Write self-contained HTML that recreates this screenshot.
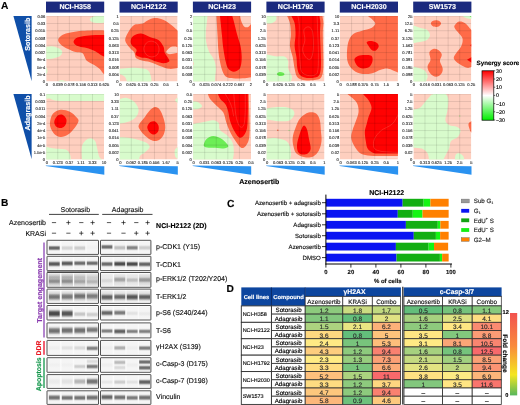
<!DOCTYPE html>
<html lang="en"><head><meta charset="utf-8"><title>Figure</title>
<style>html,body{margin:0;padding:0;background:#fff}svg{display:block}text{font-family:"Liberation Sans", sans-serif}</style>
</head><body>
<svg width="520" height="405" viewBox="0 0 520 405" text-rendering="geometricPrecision">
<defs>
<filter id="bl" x="-20%" y="-60%" width="140%" height="220%"><feGaussianBlur stdDeviation="0.6 0.75"/></filter>
<filter id="bl2" x="-20%" y="-60%" width="140%" height="220%"><feGaussianBlur stdDeviation="0.35 1.2"/></filter>
<linearGradient id="syn" x1="0" y1="0" x2="0" y2="1"><stop offset="0" stop-color="#ff0000"/><stop offset="0.5" stop-color="#ffffff"/><stop offset="1" stop-color="#00ee00"/></linearGradient>
<linearGradient id="fold" x1="0" y1="0" x2="0" y2="1"><stop offset="0" stop-color="#f2524f"/><stop offset="0.4" stop-color="#f98a3c"/><stop offset="0.75" stop-color="#f4e61e"/><stop offset="1" stop-color="#56b75c"/></linearGradient>
<linearGradient id="boxbg" x1="0" y1="0" x2="0" y2="1"><stop offset="0" stop-color="#fcfcfc"/><stop offset="0.5" stop-color="#f9f9f9"/><stop offset="1" stop-color="#fcfcfc"/></linearGradient>
<linearGradient id="bg1" x1="0" y1="0" x2="0" y2="1"><stop offset="0" stop-color="#242424" stop-opacity="0"/><stop offset="0.14" stop-color="#242424" stop-opacity="0.12"/><stop offset="0.3" stop-color="#242424" stop-opacity="0.7"/><stop offset="0.42" stop-color="#242424" stop-opacity="1"/><stop offset="0.58" stop-color="#242424" stop-opacity="1"/><stop offset="0.7" stop-color="#242424" stop-opacity="0.7"/><stop offset="0.86" stop-color="#242424" stop-opacity="0.12"/><stop offset="1" stop-color="#242424" stop-opacity="0"/></linearGradient>
<linearGradient id="bg2" x1="0" y1="0" x2="0" y2="1"><stop offset="0" stop-color="#242424" stop-opacity="0.35"/><stop offset="0.15" stop-color="#242424" stop-opacity="0.8"/><stop offset="0.5" stop-color="#242424" stop-opacity="1"/><stop offset="0.85" stop-color="#242424" stop-opacity="0.8"/><stop offset="1" stop-color="#242424" stop-opacity="0.35"/></linearGradient>
</defs>
<rect width="520" height="405" fill="#fff"/>
<g id="panelA">
<text x="1.1" y="8.9" font-size="10.2" font-weight="bold" fill="#000" stroke="#000" stroke-width="0.14">A</text>
<rect x="46" y="1.6" width="58.2" height="11" fill="#1b2a7e"/>
<text x="75.15" y="8.9" font-size="7.1" font-weight="bold" fill="#fff" text-anchor="middle" stroke="#fff" stroke-width="0.14">NCI-H358</text>
<rect x="119.5" y="1.6" width="58.2" height="11" fill="#1b2a7e"/>
<text x="148.65" y="8.9" font-size="7.1" font-weight="bold" fill="#fff" text-anchor="middle" stroke="#fff" stroke-width="0.14">NCI-H2122</text>
<rect x="192.9" y="1.6" width="58.2" height="11" fill="#1b2a7e"/>
<text x="222.05" y="8.9" font-size="7.1" font-weight="bold" fill="#fff" text-anchor="middle" stroke="#fff" stroke-width="0.14">NCI-H23</text>
<rect x="266.4" y="1.6" width="58.2" height="11" fill="#1b2a7e"/>
<text x="295.55" y="8.9" font-size="7.1" font-weight="bold" fill="#fff" text-anchor="middle" stroke="#fff" stroke-width="0.14">NCI-H1792</text>
<rect x="339.8" y="1.6" width="58.2" height="11" fill="#1b2a7e"/>
<text x="368.95" y="8.9" font-size="7.1" font-weight="bold" fill="#fff" text-anchor="middle" stroke="#fff" stroke-width="0.14">NCI-H2030</text>
<rect x="413.2" y="1.6" width="58.2" height="11" fill="#1b2a7e"/>
<text x="442.35" y="8.9" font-size="7.1" font-weight="bold" fill="#fff" text-anchor="middle" stroke="#fff" stroke-width="0.14">SW1573</text>
<path d="M13.4 16 L31.6 16 L31.6 80.9 Z" fill="#0f4fa8"/>
<text transform="translate(29.9 34.2) rotate(-90)" font-size="7.2" font-weight="bold" fill="#fff" text-anchor="middle" stroke="#fff" stroke-width="0.14">Sotorasib</text>
<path d="M13.4 94 L31.6 94 L31.6 159 Z" fill="#0f4fa8"/>
<text transform="translate(29.9 113) rotate(-90)" font-size="7.2" font-weight="bold" fill="#fff" text-anchor="middle" stroke="#fff" stroke-width="0.14">Adagrasib</text>
<clipPath id="cp00"><rect x="46.2" y="16" width="57.9" height="65.5"/></clipPath>
<g clip-path="url(#cp00)">
<rect x="46.2" y="16" width="57.9" height="65.5" fill="#fecfbf"/>
<path d="M89.72 19.79 C89.56 18.87 90.96 17.61 92.33 16.95 C93.7 16.28 95.98 16.03 97.94 15.81 C99.9 15.59 102.23 15.65 104.1 15.62 C105.97 15.59 109.14 15.62 109.14 15.62 L109.14 22.63 C109.14 22.63 105.66 22.56 104.1 22.63 C102.54 22.69 101.61 23.04 99.8 23 C98 22.97 94.95 22.97 93.27 22.44 C91.59 21.9 89.87 20.7 89.72 19.79Z" fill="#d8fbcc"/>
<path d="M41.9 46.67 C41.9 46.67 44.33 46.7 46.2 46.67 C48.07 46.64 50.87 46.13 53.11 46.48 C55.35 46.83 58.12 47.8 59.65 48.75 C61.17 49.7 62.26 50.9 62.26 52.16 C62.26 53.42 61.17 55.28 59.65 56.32 C58.12 57.36 55.35 57.96 53.11 58.4 C50.87 58.85 48.07 58.88 46.2 58.97 C44.33 59.07 41.9 58.97 41.9 58.97 L41.9 46.67Z" fill="#d8fbcc"/>
<path d="M43.77 66.73 C43.77 66.73 45.58 66.8 46.2 67.49 C46.82 68.19 47.51 69.76 47.51 70.9 C47.51 72.03 46.82 73.68 46.2 74.31 C45.58 74.94 43.77 74.68 43.77 74.68 L43.77 66.73Z" fill="#d8fbcc"/>
<path d="M57.22 83.77 C57.22 83.77 57.84 82.07 58.34 81.5 C58.84 80.93 59.46 80.55 60.21 80.36 C60.96 80.17 61.83 80.17 62.82 80.36 C63.82 80.55 65.47 80.93 66.18 81.5 C66.9 82.07 67.12 83.77 67.12 83.77 L57.22 83.77Z" fill="#d8fbcc"/>
<path d="M58.15 40.23 C58.06 38.69 59.31 37.08 60.96 35.88 C62.6 34.68 65 33.86 68.05 33.04 C71.1 32.22 75.52 31.4 79.26 30.96 C82.99 30.51 86.33 30.48 90.47 30.39 C94.61 30.29 100.68 30.39 104.1 30.39 C107.52 30.39 111.01 30.39 111.01 30.39 L111.01 77.15 C111.01 77.15 105.97 75.66 104.1 74.31 C102.23 72.95 101.45 70.55 99.8 69.01 C98.15 67.46 96.38 66.42 94.2 65.03 C92.02 63.64 88.35 62.1 86.73 60.68 C85.11 59.26 85.24 57.81 84.49 56.51 C83.74 55.22 83.74 53.67 82.25 52.91 C80.75 52.16 77.89 52.63 75.52 51.97 C73.16 51.31 70.39 50.08 68.05 48.94 C65.72 47.8 63.17 46.6 61.52 45.15 C59.87 43.7 58.25 41.78 58.15 40.23Z" fill="#ff6b48"/>
<path d="M73.66 41.18 C74.06 40.04 75.21 38.5 77.39 37.58 C79.57 36.67 83.62 36.1 86.73 35.69 C89.84 35.28 93.17 35.25 96.07 35.12 C98.96 34.99 101.61 34.96 104.1 34.93 C106.59 34.9 111.01 34.93 111.01 34.93 L111.01 58.22 C111.01 58.22 105.97 57.17 104.1 56.51 C102.23 55.85 101.45 55.19 99.8 54.24 C98.15 53.29 96.38 51.87 94.2 50.83 C92.02 49.79 89.22 48.72 86.73 47.99 C84.24 47.27 81.22 47.08 79.26 46.48 C77.3 45.88 75.9 45.28 74.96 44.4 C74.03 43.51 73.25 42.31 73.66 41.18Z" fill="#ff0202"/>
<path d="M57.78 16V81.5M69.36 16V81.5M80.94 16V81.5M92.52 16V81.5M46.2 16.2H104.1M46.2 23.47H104.1M46.2 30.74H104.1M46.2 38.01H104.1M46.2 45.28H104.1M46.2 52.55H104.1M46.2 59.82H104.1M46.2 67.09H104.1M46.2 74.36H104.1" stroke="#000" stroke-opacity="0.24" stroke-width="0.42" fill="none"/>
</g>
<text x="45.4" y="17.7" font-size="4.1" fill="#111" text-anchor="end" stroke="#111" stroke-width="0.08">0.06</text>
<text x="45.4" y="24.97" font-size="4.1" fill="#111" text-anchor="end" stroke="#111" stroke-width="0.08">0.03</text>
<text x="45.4" y="32.24" font-size="4.1" fill="#111" text-anchor="end" stroke="#111" stroke-width="0.08">0.015</text>
<text x="45.4" y="39.51" font-size="4.1" fill="#111" text-anchor="end" stroke="#111" stroke-width="0.08">0.008</text>
<text x="45.4" y="46.78" font-size="4.1" fill="#111" text-anchor="end" stroke="#111" stroke-width="0.08">0.004</text>
<text x="45.4" y="54.05" font-size="4.1" fill="#111" text-anchor="end" stroke="#111" stroke-width="0.08">0.002</text>
<text x="45.4" y="61.32" font-size="4.1" fill="#111" text-anchor="end" stroke="#111" stroke-width="0.08">9e-4</text>
<text x="45.4" y="68.59" font-size="4.1" fill="#111" text-anchor="end" stroke="#111" stroke-width="0.08">5e-4</text>
<text x="45.4" y="75.86" font-size="4.1" fill="#111" text-anchor="end" stroke="#111" stroke-width="0.08">2e-4</text>
<text x="45" y="83.1" font-size="4.1" fill="#111" text-anchor="end" stroke="#111" stroke-width="0.08">0</text>
<text x="46.8" y="86.1" font-size="4.1" fill="#111" text-anchor="middle" stroke="#111" stroke-width="0.08">0</text>
<text x="57.78" y="86.1" font-size="4.1" fill="#111" text-anchor="middle" stroke="#111" stroke-width="0.08">0.039</text>
<text x="69.36" y="86.1" font-size="4.1" fill="#111" text-anchor="middle" stroke="#111" stroke-width="0.08">0.078</text>
<text x="80.94" y="86.1" font-size="4.1" fill="#111" text-anchor="middle" stroke="#111" stroke-width="0.08">0.156</text>
<text x="92.52" y="86.1" font-size="4.1" fill="#111" text-anchor="middle" stroke="#111" stroke-width="0.08">0.313</text>
<text x="104.1" y="86.1" font-size="4.1" fill="#111" text-anchor="middle" stroke="#111" stroke-width="0.08">0.625</text>
<clipPath id="cp01"><rect x="119.7" y="16" width="57.9" height="65.5"/></clipPath>
<g clip-path="url(#cp01)">
<rect x="119.7" y="16" width="57.9" height="65.5" fill="#fecfbf"/>
<path d="M125.13 40.23 C124.95 37.52 127.6 33.7 128.69 31.52 C129.79 29.35 130.51 28.37 131.69 27.17 C132.88 25.97 133.94 24.96 135.81 24.33 C137.69 23.7 140.91 24.05 142.93 23.38 C144.96 22.72 146.03 21.24 147.99 20.35 C149.96 19.47 152.21 18.18 154.74 18.08 C157.27 17.99 160.45 18.68 163.17 19.79 C165.89 20.89 168.86 23.13 171.04 24.71 C173.23 26.29 175.2 28.27 176.29 29.25 C177.38 30.23 176.6 29.54 177.6 30.58 C178.6 31.62 182.28 35.5 182.28 35.5 L182.28 67.87 C182.28 67.87 179.79 67.9 177.6 68.06 C175.41 68.22 172.13 69.16 169.17 68.82 C166.2 68.47 162.92 67.08 159.8 65.98 C156.68 64.87 153.55 63.14 150.43 62.19 C147.31 61.24 143.53 61.09 141.06 60.3 C138.59 59.51 136.75 58.75 135.63 57.46 C134.5 56.16 135.28 54.15 134.32 52.54 C133.35 50.93 131.35 49.85 129.82 47.8 C128.29 45.75 125.32 42.94 125.13 40.23Z" fill="#ff6b48"/>
<path d="M166.17 51.78 C166.42 50.64 168.86 48.12 170.29 47.24 C171.73 46.35 173.57 46.51 174.79 46.48 C176.01 46.45 176.35 46.83 177.6 47.05 C178.85 47.27 182.28 47.8 182.28 47.8 L182.28 52.73 C182.28 52.73 179.16 52.57 177.6 52.73 C176.04 52.88 174.38 53.45 172.92 53.67 C171.45 53.89 169.92 54.37 168.79 54.05 C167.67 53.74 165.92 52.91 166.17 51.78Z" fill="#fecfbf"/>
<path d="M130.76 40.23 C131.07 38.69 131.85 36.82 133.57 35.69 C135.28 34.55 138.25 33.16 141.06 33.42 C143.87 33.67 147.46 36.07 150.43 37.2 C153.4 38.34 156.68 38.62 158.86 40.23 C161.05 41.84 162.58 44.81 163.55 46.86 C164.51 48.91 163.89 50.64 164.67 52.54 C165.45 54.43 167.48 56.73 168.23 58.22 C168.98 59.7 169.95 60.61 169.17 61.43 C168.39 62.25 165.73 63.11 163.55 63.14 C161.36 63.17 158.55 62.41 156.05 61.62 C153.55 60.83 151.05 59.1 148.56 58.4 C146.06 57.71 143.22 58.09 141.06 57.46 C138.91 56.83 136.38 55.91 135.63 54.62 C134.88 53.32 137.22 51.31 136.56 49.7 C135.91 48.09 132.66 46.54 131.69 44.96 C130.72 43.39 130.44 41.78 130.76 40.23Z" fill="#ff0202"/>
<path d="M143.87 48.75 C143.9 46.86 145.06 44.33 146.31 43.07 C147.56 41.81 149.59 41.08 151.37 41.18 C153.15 41.27 155.71 42.28 156.99 43.64 C158.27 45 159.05 47.42 159.05 49.32 C159.05 51.21 158.27 53.74 156.99 55 C155.71 56.26 153.18 56.98 151.37 56.89 C149.56 56.8 147.37 55.79 146.12 54.43 C144.87 53.07 143.84 50.64 143.87 48.75Z" fill="none" stroke="#ff6e5e" stroke-width="0.35"/>
<path d="M114.83 68.63 C114.83 68.63 116.89 68.78 119.7 68.63 C122.51 68.47 127.82 67.71 131.69 67.68 C135.56 67.65 140.19 67.96 142.93 68.44 C145.68 68.91 146.9 69.38 148.18 70.52 C149.46 71.66 150.06 73.42 150.62 75.25 C151.18 77.08 151.4 79.76 151.55 81.5 C151.71 83.24 151.55 85.66 151.55 85.66 L127.57 85.66 C127.57 85.66 127.51 83.01 127.01 81.5 C126.51 79.99 125.79 77.78 124.57 76.58 C123.35 75.38 121.32 74.68 119.7 74.31 C118.08 73.93 114.83 74.31 114.83 74.31 L114.83 68.63Z" fill="#d8fbcc"/>
<path d="M131.28 16V81.5M142.86 16V81.5M154.44 16V81.5M166.02 16V81.5M119.7 16.2H177.6M119.7 23.47H177.6M119.7 30.74H177.6M119.7 38.01H177.6M119.7 45.28H177.6M119.7 52.55H177.6M119.7 59.82H177.6M119.7 67.09H177.6M119.7 74.36H177.6" stroke="#000" stroke-opacity="0.24" stroke-width="0.42" fill="none"/>
</g>
<text x="118.9" y="17.7" font-size="4.1" fill="#111" text-anchor="end" stroke="#111" stroke-width="0.08">1</text>
<text x="118.9" y="24.97" font-size="4.1" fill="#111" text-anchor="end" stroke="#111" stroke-width="0.08">0.5</text>
<text x="118.9" y="32.24" font-size="4.1" fill="#111" text-anchor="end" stroke="#111" stroke-width="0.08">0.25</text>
<text x="118.9" y="39.51" font-size="4.1" fill="#111" text-anchor="end" stroke="#111" stroke-width="0.08">0.125</text>
<text x="118.9" y="46.78" font-size="4.1" fill="#111" text-anchor="end" stroke="#111" stroke-width="0.08">0.063</text>
<text x="118.9" y="54.05" font-size="4.1" fill="#111" text-anchor="end" stroke="#111" stroke-width="0.08">0.313</text>
<text x="118.9" y="61.32" font-size="4.1" fill="#111" text-anchor="end" stroke="#111" stroke-width="0.08">0.016</text>
<text x="118.9" y="68.59" font-size="4.1" fill="#111" text-anchor="end" stroke="#111" stroke-width="0.08">0.008</text>
<text x="118.9" y="75.86" font-size="4.1" fill="#111" text-anchor="end" stroke="#111" stroke-width="0.08">0.004</text>
<text x="118.5" y="83.1" font-size="4.1" fill="#111" text-anchor="end" stroke="#111" stroke-width="0.08">0</text>
<text x="120.3" y="86.1" font-size="4.1" fill="#111" text-anchor="middle" stroke="#111" stroke-width="0.08">0</text>
<text x="131.28" y="86.1" font-size="4.1" fill="#111" text-anchor="middle" stroke="#111" stroke-width="0.08">0.625</text>
<text x="142.86" y="86.1" font-size="4.1" fill="#111" text-anchor="middle" stroke="#111" stroke-width="0.08">0.125</text>
<text x="154.44" y="86.1" font-size="4.1" fill="#111" text-anchor="middle" stroke="#111" stroke-width="0.08">0.25</text>
<text x="166.02" y="86.1" font-size="4.1" fill="#111" text-anchor="middle" stroke="#111" stroke-width="0.08">0.5</text>
<text x="177.6" y="86.1" font-size="4.1" fill="#111" text-anchor="middle" stroke="#111" stroke-width="0.08">1</text>
<clipPath id="cp02"><rect x="193.1" y="16" width="57.9" height="65.5"/></clipPath>
<g clip-path="url(#cp02)">
<rect x="193.1" y="16" width="57.9" height="65.5" fill="#fecfbf"/>
<path d="M188.8 11.84 L207.86 11.84 C207.86 11.84 207.67 14.11 207.48 16 C207.29 17.89 207.01 20.42 206.73 23.19 C206.45 25.97 205.89 29.5 205.8 32.66 C205.71 35.81 205.64 38.97 206.17 42.12 C206.7 45.28 207.64 48.59 208.98 51.59 C210.31 54.59 213.05 57.27 214.21 60.11 C215.36 62.95 215.73 65.79 215.89 68.63 C216.04 71.47 215.29 75 215.14 77.15 C214.98 79.29 214.98 80.08 214.95 81.5 C214.92 82.92 214.95 85.66 214.95 85.66 L188.8 85.66 L188.8 11.84Z" fill="#d8fbcc"/>
<path d="M191.61 61.43 C191.61 61.43 192.7 61.47 193.1 61.81 C193.5 62.16 194.03 62.88 194.03 63.52 C194.03 64.15 193.5 65.19 193.1 65.6 C192.7 66.01 191.61 65.98 191.61 65.98 L191.61 61.43Z" fill="#fecfbf"/>
<path d="M216.26 11.84 C216.26 11.84 216.35 14.11 216.45 16 C216.54 17.89 216.63 19.79 216.82 23.19 C217.01 26.6 217.32 32.03 217.57 36.45 C217.82 40.86 217.97 45.75 218.31 49.7 C218.66 53.64 218.94 56.57 219.62 60.11 C220.31 63.64 221.27 68.09 222.42 70.9 C223.58 73.71 224.35 75.69 226.53 76.96 C228.71 78.22 232.14 78.28 235.5 78.47 C238.86 78.66 244.12 78.28 246.7 78.09 C249.29 77.9 249.29 77.52 251 77.34 C252.71 77.15 256.98 76.96 256.98 76.96 L256.98 11.84 L216.26 11.84Z" fill="#ff6b48"/>
<path d="M239.98 11.84 C239.98 11.84 239.95 14.42 240.17 16 C240.38 17.58 240.63 19.57 241.29 21.3 C241.94 23.04 243 25.43 244.09 26.41 C245.18 27.39 246.67 27.58 247.82 27.17 C248.98 26.76 249.94 25.09 251 23.95 C252.06 22.82 254.18 20.35 254.18 20.35 L254.18 11.84 L239.98 11.84Z" fill="#fecfbf"/>
<path d="M219.81 11.84 C219.81 11.84 219.84 14.11 220 16 C220.15 17.89 220.43 20.1 220.74 23.19 C221.05 26.29 221.43 30.29 221.86 34.55 C222.3 38.81 222.7 44.18 223.36 48.75 C224.01 53.32 224.94 58.69 225.79 62 C226.63 65.31 227.09 67.02 228.4 68.63 C229.71 70.24 231.89 71.5 233.63 71.66 C235.37 71.81 237.61 70.77 238.86 69.57 C240.1 68.37 240.63 66.77 241.1 64.46 C241.57 62.16 241.79 58.94 241.66 55.75 C241.54 52.57 241.1 48.84 240.35 45.34 C239.61 41.84 238.21 38.53 237.18 34.74 C236.15 30.96 235 25.75 234.19 22.63 C233.38 19.5 232.7 17.8 232.32 16 C231.95 14.2 231.95 11.84 231.95 11.84 L219.81 11.84Z" fill="#ff0202"/>
<path d="M204.68 16V81.5M216.26 16V81.5M227.84 16V81.5M239.42 16V81.5M193.1 16.2H251M193.1 23.47H251M193.1 30.74H251M193.1 38.01H251M193.1 45.28H251M193.1 52.55H251M193.1 59.82H251M193.1 67.09H251M193.1 74.36H251" stroke="#000" stroke-opacity="0.24" stroke-width="0.42" fill="none"/>
</g>
<text x="192.3" y="17.7" font-size="4.1" fill="#111" text-anchor="end" stroke="#111" stroke-width="0.08">2</text>
<text x="192.3" y="24.97" font-size="4.1" fill="#111" text-anchor="end" stroke="#111" stroke-width="0.08">1</text>
<text x="192.3" y="32.24" font-size="4.1" fill="#111" text-anchor="end" stroke="#111" stroke-width="0.08">0.5</text>
<text x="192.3" y="39.51" font-size="4.1" fill="#111" text-anchor="end" stroke="#111" stroke-width="0.08">0.25</text>
<text x="192.3" y="46.78" font-size="4.1" fill="#111" text-anchor="end" stroke="#111" stroke-width="0.08">0.125</text>
<text x="192.3" y="54.05" font-size="4.1" fill="#111" text-anchor="end" stroke="#111" stroke-width="0.08">0.063</text>
<text x="192.3" y="61.32" font-size="4.1" fill="#111" text-anchor="end" stroke="#111" stroke-width="0.08">0.031</text>
<text x="192.3" y="68.59" font-size="4.1" fill="#111" text-anchor="end" stroke="#111" stroke-width="0.08">0.016</text>
<text x="192.3" y="75.86" font-size="4.1" fill="#111" text-anchor="end" stroke="#111" stroke-width="0.08">0.008</text>
<text x="191.9" y="83.1" font-size="4.1" fill="#111" text-anchor="end" stroke="#111" stroke-width="0.08">0</text>
<text x="193.7" y="86.1" font-size="4.1" fill="#111" text-anchor="middle" stroke="#111" stroke-width="0.08">0</text>
<text x="204.68" y="86.1" font-size="4.1" fill="#111" text-anchor="middle" stroke="#111" stroke-width="0.08">0.025</text>
<text x="216.26" y="86.1" font-size="4.1" fill="#111" text-anchor="middle" stroke="#111" stroke-width="0.08">0.074</text>
<text x="227.84" y="86.1" font-size="4.1" fill="#111" text-anchor="middle" stroke="#111" stroke-width="0.08">0.222</text>
<text x="239.42" y="86.1" font-size="4.1" fill="#111" text-anchor="middle" stroke="#111" stroke-width="0.08">0.667</text>
<text x="251" y="86.1" font-size="4.1" fill="#111" text-anchor="middle" stroke="#111" stroke-width="0.08">2</text>
<clipPath id="cp03"><rect x="266.6" y="16" width="57.9" height="65.5"/></clipPath>
<g clip-path="url(#cp03)">
<rect x="266.6" y="16" width="57.9" height="65.5" fill="#fecfbf"/>
<path d="M261.93 11.84 L276.13 11.84 C276.13 11.84 276.34 14.61 276.31 16 C276.28 17.39 276.72 18.97 275.94 20.16 C275.16 21.36 273.2 22.63 271.64 23.19 C270.09 23.76 268.22 23.51 266.6 23.57 C264.98 23.64 261.93 23.57 261.93 23.57 L261.93 11.84Z" fill="#d8fbcc"/>
<path d="M261.93 54.24 C261.93 54.24 264.42 54.27 266.6 54.62 C268.78 54.97 272.05 56.01 275 56.32 C277.96 56.64 282.16 55.72 284.34 56.51 C286.52 57.3 287.43 59.04 288.08 61.05 C288.73 63.07 287.64 66.1 288.27 68.63 C288.89 71.15 291.35 74.05 291.81 76.2 C292.28 78.34 291.22 79.92 291.07 81.5 C290.91 83.08 290.88 85.66 290.88 85.66 L261.93 85.66 L261.93 54.24Z" fill="#d8fbcc"/>
<path d="M276.87 73.93 C276.81 73.36 277.68 72.73 278.37 72.41 C279.05 72.1 280.05 71.91 280.98 72.03 C281.92 72.16 283.41 72.73 283.97 73.17 C284.53 73.61 284.65 74.24 284.34 74.68 C284.03 75.13 283.04 75.63 282.1 75.82 C281.17 76.01 279.61 76.14 278.74 75.82 C277.87 75.51 276.93 74.5 276.87 73.93Z" fill="#6cee56"/>
<path d="M285.28 11.84 C285.28 11.84 286.37 14.11 287.15 16 C287.92 17.89 289.32 20.1 289.95 23.19 C290.57 26.29 290.88 30.77 290.88 34.55 C290.88 38.34 289.64 42.12 289.95 45.91 C290.26 49.7 291.97 53.48 292.75 57.27 C293.53 61.05 293.84 65.31 294.62 68.63 C295.39 71.94 295.71 75.22 297.42 77.15 C299.13 79.07 301.78 79.73 304.89 80.17 C308 80.62 313.29 80.43 316.1 79.8 C318.9 79.17 320.48 78.88 321.7 76.39 C322.91 73.9 323.19 71.81 323.38 64.84 C323.57 57.87 322.82 41.49 322.82 34.55 C322.82 27.61 323.44 26.29 323.38 23.19 C323.32 20.1 322.66 17.89 322.45 16 C322.23 14.11 322.07 11.84 322.07 11.84 L285.28 11.84Z" fill="#ff6b48"/>
<path d="M289.95 11.84 C289.95 11.84 290.66 14.11 291.44 16 C292.22 17.89 293.93 20.1 294.62 23.19 C295.3 26.29 295.55 30.77 295.55 34.55 C295.55 38.34 294.46 42.12 294.62 45.91 C294.77 49.7 296.02 53.48 296.48 57.27 C296.95 61.05 296.8 65.63 297.42 68.63 C298.04 71.62 298.66 73.71 300.22 75.25 C301.78 76.8 304.11 77.56 306.76 77.9 C309.4 78.25 313.85 78.25 316.1 77.34 C318.34 76.42 319.39 75.44 320.2 72.41 C321.01 69.38 320.98 65.47 320.95 59.16 C320.92 52.85 320.11 40.55 320.02 34.55 C319.92 28.56 320.48 26.29 320.39 23.19 C320.3 20.1 319.64 17.89 319.46 16 C319.27 14.11 319.27 11.84 319.27 11.84 L289.95 11.84Z" fill="#ff0202"/>
<path d="M297.42 13.73 C297.73 15.62 299.04 20.04 299.29 25.09 C299.53 30.13 298.79 38.02 298.91 44.02 C299.04 50.01 299.6 56.48 300.03 61.05 C300.47 65.63 300.25 69.07 301.53 71.47 C302.8 73.86 305.42 74.87 307.69 75.44 C309.96 76.01 313.45 75.85 315.16 74.87 C316.87 73.9 317.43 73.77 317.96 69.57 C318.49 65.38 318.4 56.48 318.34 49.7 C318.27 42.91 317.81 34.87 317.59 28.87 C317.37 22.88 317.12 16.25 317.03 13.73" fill="none" stroke="#ff6e5e" stroke-width="0.35"/>
<path d="M303.95 29.82 C304.64 27.61 307.53 26.51 309 26.98 C310.46 27.45 312.02 28.87 312.73 32.66 C313.45 36.45 313.67 45.28 313.29 49.7 C312.92 54.11 311.74 57.9 310.49 59.16 C309.25 60.42 307.13 58.85 305.82 57.27 C304.52 55.69 302.8 52.54 302.65 49.7 C302.49 46.86 304.67 43.54 304.89 40.23 C305.11 36.92 303.27 32.03 303.95 29.82Z" fill="none" stroke="#ff6e5e" stroke-width="0.35"/>
<path d="M278.18 16V81.5M289.76 16V81.5M301.34 16V81.5M312.92 16V81.5M266.6 16.2H324.5M266.6 23.47H324.5M266.6 30.74H324.5M266.6 38.01H324.5M266.6 45.28H324.5M266.6 52.55H324.5M266.6 59.82H324.5M266.6 67.09H324.5M266.6 74.36H324.5" stroke="#000" stroke-opacity="0.24" stroke-width="0.42" fill="none"/>
</g>
<text x="265.8" y="17.7" font-size="4.1" fill="#111" text-anchor="end" stroke="#111" stroke-width="0.08">10</text>
<text x="265.8" y="24.97" font-size="4.1" fill="#111" text-anchor="end" stroke="#111" stroke-width="0.08">5</text>
<text x="265.8" y="32.24" font-size="4.1" fill="#111" text-anchor="end" stroke="#111" stroke-width="0.08">2.5</text>
<text x="265.8" y="39.51" font-size="4.1" fill="#111" text-anchor="end" stroke="#111" stroke-width="0.08">1.25</text>
<text x="265.8" y="46.78" font-size="4.1" fill="#111" text-anchor="end" stroke="#111" stroke-width="0.08">0.625</text>
<text x="265.8" y="54.05" font-size="4.1" fill="#111" text-anchor="end" stroke="#111" stroke-width="0.08">0.313</text>
<text x="265.8" y="61.32" font-size="4.1" fill="#111" text-anchor="end" stroke="#111" stroke-width="0.08">0.156</text>
<text x="265.8" y="68.59" font-size="4.1" fill="#111" text-anchor="end" stroke="#111" stroke-width="0.08">0.078</text>
<text x="265.8" y="75.86" font-size="4.1" fill="#111" text-anchor="end" stroke="#111" stroke-width="0.08">0.039</text>
<text x="265.4" y="83.1" font-size="4.1" fill="#111" text-anchor="end" stroke="#111" stroke-width="0.08">0</text>
<text x="267.2" y="86.1" font-size="4.1" fill="#111" text-anchor="middle" stroke="#111" stroke-width="0.08">0</text>
<text x="278.18" y="86.1" font-size="4.1" fill="#111" text-anchor="middle" stroke="#111" stroke-width="0.08">0.625</text>
<text x="289.76" y="86.1" font-size="4.1" fill="#111" text-anchor="middle" stroke="#111" stroke-width="0.08">0.125</text>
<text x="301.34" y="86.1" font-size="4.1" fill="#111" text-anchor="middle" stroke="#111" stroke-width="0.08">0.25</text>
<text x="312.92" y="86.1" font-size="4.1" fill="#111" text-anchor="middle" stroke="#111" stroke-width="0.08">0.5</text>
<text x="324.5" y="86.1" font-size="4.1" fill="#111" text-anchor="middle" stroke="#111" stroke-width="0.08">1</text>
<clipPath id="cp04"><rect x="340" y="16" width="57.9" height="65.5"/></clipPath>
<g clip-path="url(#cp04)">
<rect x="340" y="16" width="57.9" height="65.5" fill="#fecfbf"/>
<path d="M364.84 11.84 C364.84 11.84 366.77 14.74 368.02 16 C369.26 17.26 371.1 18.15 372.31 19.41 C373.53 20.67 375.46 22.12 375.3 23.57 C375.14 25.02 373.59 26.92 371.38 28.12 C369.17 29.31 365 29.82 362.04 30.77 C359.08 31.71 355.81 32.22 353.63 33.79 C351.46 35.37 350.05 37.58 348.97 40.23 C347.88 42.88 347.35 46.23 347.1 49.7 C346.85 53.17 346.69 57.9 347.47 61.05 C348.25 64.21 349.65 66.54 351.77 68.63 C353.88 70.71 356.9 72.73 360.17 73.55 C363.44 74.37 367.95 74.18 371.38 73.55 C374.8 72.92 377.92 70.58 380.72 69.76 C383.52 68.94 385.32 68.19 388.19 68.63 C391.05 69.07 395.1 71.31 397.9 72.41 C400.7 73.52 405 75.25 405 75.25 L405 11.84 L364.84 11.84Z" fill="#ff6b48"/>
<path d="M366.71 42.12 C367.14 41.24 369.67 40.83 371.38 40.99 C373.09 41.15 375.77 42.09 376.98 43.07 C378.2 44.05 378.91 45.59 378.66 46.86 C378.41 48.12 376.64 50.14 375.49 50.64 C374.34 51.15 372.87 50.61 371.75 49.89 C370.63 49.16 369.6 47.58 368.76 46.29 C367.92 45 366.27 43.01 366.71 42.12Z" fill="#ff0202"/>
<path d="M354.38 59.54 C354.48 57.87 356.19 56.7 357.93 55.94 C359.67 55.19 362.6 55.03 364.84 55 C367.08 54.97 370.1 54.74 371.38 55.75 C372.65 56.76 372.81 59.22 372.5 61.05 C372.19 62.88 371.1 65.5 369.51 66.73 C367.92 67.96 365 68.56 362.97 68.44 C360.95 68.31 358.8 67.46 357.37 65.98 C355.94 64.49 354.29 61.21 354.38 59.54Z" fill="#ff0202"/>
<path d="M351.58 16V81.5M363.16 16V81.5M374.74 16V81.5M386.32 16V81.5M340 16.2H397.9M340 23.47H397.9M340 30.74H397.9M340 38.01H397.9M340 45.28H397.9M340 52.55H397.9M340 59.82H397.9M340 67.09H397.9M340 74.36H397.9" stroke="#000" stroke-opacity="0.24" stroke-width="0.42" fill="none"/>
</g>
<text x="339.2" y="17.7" font-size="4.1" fill="#111" text-anchor="end" stroke="#111" stroke-width="0.08">10</text>
<text x="339.2" y="24.97" font-size="4.1" fill="#111" text-anchor="end" stroke="#111" stroke-width="0.08">3.3</text>
<text x="339.2" y="32.24" font-size="4.1" fill="#111" text-anchor="end" stroke="#111" stroke-width="0.08">1.11</text>
<text x="339.2" y="39.51" font-size="4.1" fill="#111" text-anchor="end" stroke="#111" stroke-width="0.08">0.37</text>
<text x="339.2" y="46.78" font-size="4.1" fill="#111" text-anchor="end" stroke="#111" stroke-width="0.08">0.123</text>
<text x="339.2" y="54.05" font-size="4.1" fill="#111" text-anchor="end" stroke="#111" stroke-width="0.08">0.041</text>
<text x="339.2" y="61.32" font-size="4.1" fill="#111" text-anchor="end" stroke="#111" stroke-width="0.08">0.014</text>
<text x="339.2" y="68.59" font-size="4.1" fill="#111" text-anchor="end" stroke="#111" stroke-width="0.08">0.005</text>
<text x="339.2" y="75.86" font-size="4.1" fill="#111" text-anchor="end" stroke="#111" stroke-width="0.08">0.002</text>
<text x="338.8" y="83.1" font-size="4.1" fill="#111" text-anchor="end" stroke="#111" stroke-width="0.08">0</text>
<text x="340.6" y="86.1" font-size="4.1" fill="#111" text-anchor="middle" stroke="#111" stroke-width="0.08">0</text>
<text x="351.58" y="86.1" font-size="4.1" fill="#111" text-anchor="middle" stroke="#111" stroke-width="0.08">0.188</text>
<text x="363.16" y="86.1" font-size="4.1" fill="#111" text-anchor="middle" stroke="#111" stroke-width="0.08">0.375</text>
<text x="374.74" y="86.1" font-size="4.1" fill="#111" text-anchor="middle" stroke="#111" stroke-width="0.08">0.75</text>
<text x="386.32" y="86.1" font-size="4.1" fill="#111" text-anchor="middle" stroke="#111" stroke-width="0.08">1.5</text>
<text x="397.9" y="86.1" font-size="4.1" fill="#111" text-anchor="middle" stroke="#111" stroke-width="0.08">3</text>
<clipPath id="cp05"><rect x="413.4" y="16" width="57.9" height="65.5"/></clipPath>
<g clip-path="url(#cp05)">
<rect x="413.4" y="16" width="57.9" height="65.5" fill="#fecfbf"/>
<path d="M408.7 24.33 C408.7 24.33 411.36 24.83 413.4 25.47 C415.44 26.1 418.57 27.33 420.92 28.12 C423.27 28.9 426 28.97 427.5 30.2 C429 31.43 430.1 33.83 429.94 35.5 C429.79 37.17 428.53 39.1 426.56 40.23 C424.59 41.37 420.29 41.84 418.1 42.31 C415.91 42.79 414.97 42.91 413.4 43.07 C411.83 43.23 408.7 43.26 408.7 43.26 L408.7 24.33Z" fill="#d8fbcc"/>
<path d="M408.7 66.73 C408.7 66.73 411.83 66.77 413.4 66.92 C414.97 67.08 416.22 67.08 418.1 67.68 C419.98 68.28 423.08 69.1 424.68 70.52 C426.28 71.94 427.47 74.37 427.69 76.2 C427.91 78.03 426.34 79.92 426 81.5 C425.65 83.08 425.62 85.66 425.62 85.66 L408.7 85.66 L408.7 66.73Z" fill="#d8fbcc"/>
<path d="M461.34 13.73 L474.5 13.73 L474.5 19.41 C474.5 19.41 472.62 19.22 471.3 19.03 C469.98 18.84 468.07 18.78 466.6 18.27 C465.13 17.77 463.34 16.76 462.46 16 C461.59 15.24 461.34 13.73 461.34 13.73Z" fill="#d8fbcc"/>
<path d="M430.88 23.57 C430.88 22.75 431.73 21.65 432.57 21.11 C433.42 20.57 434.8 20.32 435.96 20.35 C437.12 20.39 438.68 20.76 439.53 21.3 C440.38 21.84 441.1 22.75 441.03 23.57 C440.97 24.39 440 25.65 439.15 26.22 C438.31 26.79 437.06 27.01 435.96 26.98 C434.86 26.95 433.42 26.6 432.57 26.03 C431.73 25.47 430.88 24.39 430.88 23.57Z" fill="#ff6b48"/>
<path d="M429.38 52.54 C429.82 50.67 431.73 49.41 433.14 48.94 C434.55 48.47 436.4 48.78 437.84 49.7 C439.28 50.61 441.44 52.54 441.79 54.43 C442.13 56.32 439.75 58.69 439.91 61.05 C440.06 63.42 442.57 66.42 442.73 68.63 C442.88 70.84 441.97 72.95 440.85 74.31 C439.72 75.66 437.71 76.89 435.96 76.77 C434.2 76.64 431.73 75.22 430.32 73.55 C428.91 71.88 427.47 68.97 427.5 66.73 C427.53 64.49 430.19 62.47 430.51 60.11 C430.82 57.74 428.94 54.4 429.38 52.54Z" fill="#ff6b48"/>
<path d="M454.57 25.47 C455.26 24.3 457.33 21.87 459.08 21.49 C460.84 21.11 463.06 21.81 465.1 23.19 C467.13 24.58 469.26 27.77 471.3 29.82 C473.34 31.87 477.32 35.5 477.32 35.5 L477.32 66.73 C477.32 66.73 473.02 66.92 471.3 67.11 C469.58 67.3 468.95 68.37 466.98 67.87 C465 67.37 461.65 65.66 459.46 64.08 C457.26 62.51 454.29 60.33 453.82 58.4 C453.35 56.48 455.38 54.62 456.64 52.54 C457.89 50.45 460.37 48.28 461.34 45.91 C462.31 43.54 463.09 40.7 462.46 38.34 C461.84 35.97 458.83 33.35 457.58 31.71 C456.32 30.07 455.45 29.54 454.95 28.49 C454.44 27.45 453.88 26.63 454.57 25.47Z" fill="#ff6b48"/>
<path d="M466.98 59.73 L471.68 57.08 L471.68 62.76 Z" fill="#ff0202"/>
<path d="M470.17 45.15 L471.68 44.02 L471.68 46.67 Z" fill="#ff0202"/>
<path d="M469.61 16 L471.3 16 L471.3 17.51 Z" fill="#6cee56"/>
<path d="M424.98 16V81.5M436.56 16V81.5M448.14 16V81.5M459.72 16V81.5M413.4 16.2H471.3M413.4 23.47H471.3M413.4 30.74H471.3M413.4 38.01H471.3M413.4 45.28H471.3M413.4 52.55H471.3M413.4 59.82H471.3M413.4 67.09H471.3M413.4 74.36H471.3" stroke="#000" stroke-opacity="0.24" stroke-width="0.42" fill="none"/>
</g>
<text x="412.6" y="17.7" font-size="4.1" fill="#111" text-anchor="end" stroke="#111" stroke-width="0.08">25</text>
<text x="412.6" y="24.97" font-size="4.1" fill="#111" text-anchor="end" stroke="#111" stroke-width="0.08">12.5</text>
<text x="412.6" y="32.24" font-size="4.1" fill="#111" text-anchor="end" stroke="#111" stroke-width="0.08">6.25</text>
<text x="412.6" y="39.51" font-size="4.1" fill="#111" text-anchor="end" stroke="#111" stroke-width="0.08">3.125</text>
<text x="412.6" y="46.78" font-size="4.1" fill="#111" text-anchor="end" stroke="#111" stroke-width="0.08">1.563</text>
<text x="412.6" y="54.05" font-size="4.1" fill="#111" text-anchor="end" stroke="#111" stroke-width="0.08">0.781</text>
<text x="412.6" y="61.32" font-size="4.1" fill="#111" text-anchor="end" stroke="#111" stroke-width="0.08">0.391</text>
<text x="412.6" y="68.59" font-size="4.1" fill="#111" text-anchor="end" stroke="#111" stroke-width="0.08">0.195</text>
<text x="412.6" y="75.86" font-size="4.1" fill="#111" text-anchor="end" stroke="#111" stroke-width="0.08">0.098</text>
<text x="412.2" y="83.1" font-size="4.1" fill="#111" text-anchor="end" stroke="#111" stroke-width="0.08">0</text>
<text x="414" y="86.1" font-size="4.1" fill="#111" text-anchor="middle" stroke="#111" stroke-width="0.08">0</text>
<text x="424.98" y="86.1" font-size="4.1" fill="#111" text-anchor="middle" stroke="#111" stroke-width="0.08">0.016</text>
<text x="436.56" y="86.1" font-size="4.1" fill="#111" text-anchor="middle" stroke="#111" stroke-width="0.08">0.031</text>
<text x="448.14" y="86.1" font-size="4.1" fill="#111" text-anchor="middle" stroke="#111" stroke-width="0.08">0.063</text>
<text x="459.72" y="86.1" font-size="4.1" fill="#111" text-anchor="middle" stroke="#111" stroke-width="0.08">0.125</text>
<text x="471.3" y="86.1" font-size="4.1" fill="#111" text-anchor="middle" stroke="#111" stroke-width="0.08">0.25</text>
<clipPath id="cp10"><rect x="46.2" y="94" width="57.9" height="65.6"/></clipPath>
<g clip-path="url(#cp10)">
<rect x="46.2" y="94" width="57.9" height="65.6" fill="#fecfbf"/>
<path d="M41.9 99.12 C41.9 99.12 44.95 99.02 46.2 98.93 C47.45 98.83 47.91 98.3 49.38 98.55 C50.84 98.8 52.18 100.04 54.98 100.45 C57.78 100.86 62.45 100.92 66.18 101.02 C69.92 101.11 71.07 101.02 77.39 101.02 C83.71 101.02 98.5 101.02 104.1 101.02 C109.7 101.02 111.01 101.02 111.01 101.02 L111.01 89.83 L41.9 89.83 L41.9 99.12Z" fill="#d8fbcc"/>
<path d="M41.9 146.33 C41.9 146.33 44.02 146.33 46.2 146.71 C48.38 147.09 51.65 148.1 54.98 148.6 C58.31 149.11 63.69 148.79 66.18 149.74 C68.68 150.69 69.14 152.65 69.92 154.29 C70.7 155.93 70.67 158.02 70.85 159.6 C71.04 161.18 71.04 163.77 71.04 163.77 L41.9 163.77 L41.9 146.33Z" fill="#d8fbcc"/>
<path d="M81.87 163.77 C81.87 163.77 81.87 162.44 81.87 159.6 C81.87 156.76 81.22 149.93 81.87 146.71 C82.53 143.48 84.36 141.68 85.8 140.26 C87.23 138.84 88.91 138.05 90.47 138.18 C92.02 138.3 94.01 139.28 95.13 141.02 C96.26 142.76 96.54 146.08 97.19 148.6 C97.84 151.13 98.31 154.35 99.06 156.19 C99.8 158.02 100.92 158.34 101.67 159.6 C102.42 160.86 103.54 163.77 103.54 163.77 L81.87 163.77Z" fill="#d8fbcc"/>
<path d="M50.31 120.16 C50.78 117.95 51.4 115.27 53.11 113.53 C54.82 111.79 57.78 110.05 60.58 109.74 C63.38 109.42 67.27 110.4 69.92 111.63 C72.57 112.86 75.03 115.55 76.46 117.13 C77.89 118.71 78.79 119.34 78.51 121.11 C78.23 122.88 76.52 125.5 74.78 127.75 C73.03 129.99 70.42 133.03 68.05 134.57 C65.69 136.12 62.92 137.2 60.58 137.04 C58.25 136.88 55.76 135.33 54.04 133.63 C52.33 131.92 50.93 129.04 50.31 126.8 C49.69 124.56 49.84 122.38 50.31 120.16Z" fill="#ff6b48"/>
<path d="M54.6 120.16 C55.13 118.74 56.47 116.34 57.78 115.42 C59.09 114.51 61.02 114.03 62.45 114.67 C63.88 115.3 65.87 117.51 66.37 119.22 C66.87 120.92 66.25 123.45 65.44 124.9 C64.63 126.36 62.95 127.59 61.52 127.94 C60.08 128.29 58 127.65 56.85 126.99 C55.69 126.33 54.98 125.09 54.6 123.96 C54.23 122.82 54.08 121.59 54.6 120.16Z" fill="#ff0202"/>
<path d="M57.78 94V159.6M69.36 94V159.6M80.94 94V159.6M92.52 94V159.6M46.2 94.2H104.1M46.2 101.47H104.1M46.2 108.74H104.1M46.2 116.01H104.1M46.2 123.28H104.1M46.2 130.55H104.1M46.2 137.82H104.1M46.2 145.09H104.1M46.2 152.36H104.1" stroke="#000" stroke-opacity="0.24" stroke-width="0.42" fill="none"/>
</g>
<text x="45.4" y="95.7" font-size="4.1" fill="#111" text-anchor="end" stroke="#111" stroke-width="0.08">0.1</text>
<text x="45.4" y="102.97" font-size="4.1" fill="#111" text-anchor="end" stroke="#111" stroke-width="0.08">0.033</text>
<text x="45.4" y="110.24" font-size="4.1" fill="#111" text-anchor="end" stroke="#111" stroke-width="0.08">0.011</text>
<text x="45.4" y="117.51" font-size="4.1" fill="#111" text-anchor="end" stroke="#111" stroke-width="0.08">0.004</text>
<text x="45.4" y="124.78" font-size="4.1" fill="#111" text-anchor="end" stroke="#111" stroke-width="0.08">2e-4</text>
<text x="45.4" y="132.05" font-size="4.1" fill="#111" text-anchor="end" stroke="#111" stroke-width="0.08">4e-4</text>
<text x="45.4" y="139.32" font-size="4.1" fill="#111" text-anchor="end" stroke="#111" stroke-width="0.08">1e-5</text>
<text x="45.4" y="146.59" font-size="4.1" fill="#111" text-anchor="end" stroke="#111" stroke-width="0.08">4e-5</text>
<text x="45.4" y="153.86" font-size="4.1" fill="#111" text-anchor="end" stroke="#111" stroke-width="0.08">1.5e-5</text>
<text x="45" y="161.2" font-size="4.1" fill="#111" text-anchor="end" stroke="#111" stroke-width="0.08">0</text>
<text x="46.8" y="164.2" font-size="4.1" fill="#111" text-anchor="middle" stroke="#111" stroke-width="0.08">0</text>
<text x="57.78" y="164.2" font-size="4.1" fill="#111" text-anchor="middle" stroke="#111" stroke-width="0.08">0.123</text>
<text x="69.36" y="164.2" font-size="4.1" fill="#111" text-anchor="middle" stroke="#111" stroke-width="0.08">0.37</text>
<text x="80.94" y="164.2" font-size="4.1" fill="#111" text-anchor="middle" stroke="#111" stroke-width="0.08">1.11</text>
<text x="92.52" y="164.2" font-size="4.1" fill="#111" text-anchor="middle" stroke="#111" stroke-width="0.08">3.33</text>
<text x="104.1" y="164.2" font-size="4.1" fill="#111" text-anchor="middle" stroke="#111" stroke-width="0.08">10</text>
<clipPath id="cp11"><rect x="119.7" y="94" width="57.9" height="65.6"/></clipPath>
<g clip-path="url(#cp11)">
<rect x="119.7" y="94" width="57.9" height="65.6" fill="#fecfbf"/>
<path d="M114.83 99.31 C114.83 99.31 117.83 99.18 119.7 98.93 C121.57 98.68 123.76 97.41 126.07 97.79 C128.38 98.17 131.5 99.37 133.57 101.2 C135.63 103.04 137.94 106.26 138.44 108.79 C138.94 111.32 138 114.29 136.56 116.37 C135.13 118.46 132.63 120.1 129.82 121.3 C127.01 122.5 122.2 123.13 119.7 123.58 C117.2 124.02 114.83 123.96 114.83 123.96 L114.83 99.31Z" fill="#d8fbcc"/>
<path d="M114.83 137.04 C114.83 137.04 116.89 137.04 119.7 137.23 C122.51 137.42 127.51 137.39 131.69 138.18 C135.88 138.97 141.81 140.55 144.81 141.97 C147.81 143.39 149.68 144.97 149.68 146.71 C149.68 148.45 146.37 150.94 144.81 152.4 C143.25 153.85 141.25 154.23 140.31 155.43 C139.37 156.63 139.37 158.21 139.19 159.6 C139 160.99 139.19 163.77 139.19 163.77 L114.83 163.77 L114.83 137.04Z" fill="#d8fbcc"/>
<path d="M180.41 96.65 C180.41 96.65 178.47 97.19 177.6 97.79 C176.73 98.39 175.16 99.37 175.16 100.26 C175.16 101.14 176.73 102.44 177.6 103.1 C178.47 103.76 180.41 104.24 180.41 104.24 L180.41 96.65Z" fill="#d8fbcc"/>
<path d="M180.41 145.95 C180.41 145.95 178.54 146.33 177.6 147.09 C176.66 147.85 175.2 148.98 174.79 150.5 C174.38 152.02 174.7 154.8 175.16 156.19 C175.63 157.58 176.73 158.21 177.6 158.84 C178.47 159.47 180.41 159.98 180.41 159.98 L180.41 145.95Z" fill="#d8fbcc"/>
<path d="M138.81 124.9 C139.53 123.13 142.09 120.64 143.87 118.27 C145.65 115.9 147.62 112.55 149.49 110.68 C151.37 108.82 153.4 107.24 155.11 107.08 C156.83 106.92 158.39 107.87 159.8 109.74 C161.2 111.6 162.64 115.27 163.55 118.27 C164.45 121.27 165.36 124.75 165.23 127.75 C165.11 130.75 164.17 134.1 162.8 136.28 C161.42 138.46 159.05 140.26 156.99 140.83 C154.93 141.4 152.62 140.74 150.43 139.69 C148.24 138.65 145.68 136.37 143.87 134.57 C142.06 132.77 140.41 130.5 139.56 128.89 C138.72 127.27 138.09 126.67 138.81 124.9Z" fill="#ff6b48"/>
<path d="M147.62 125.85 C148.09 124.71 149.18 122.79 150.43 122.06 C151.68 121.33 153.77 120.86 155.11 121.49 C156.46 122.12 157.99 124.18 158.49 125.85 C158.99 127.53 158.83 130.09 158.11 131.54 C157.39 132.99 155.52 134.38 154.18 134.57 C152.83 134.76 151.15 133.63 150.06 132.68 C148.96 131.73 148.03 130.02 147.62 128.89 C147.21 127.75 147.15 126.99 147.62 125.85Z" fill="#ff0202"/>
<path d="M131.28 94V159.6M142.86 94V159.6M154.44 94V159.6M166.02 94V159.6M119.7 94.2H177.6M119.7 101.47H177.6M119.7 108.74H177.6M119.7 116.01H177.6M119.7 123.28H177.6M119.7 130.55H177.6M119.7 137.82H177.6M119.7 145.09H177.6M119.7 152.36H177.6" stroke="#000" stroke-opacity="0.24" stroke-width="0.42" fill="none"/>
</g>
<text x="118.9" y="95.7" font-size="4.1" fill="#111" text-anchor="end" stroke="#111" stroke-width="0.08">10</text>
<text x="118.9" y="102.97" font-size="4.1" fill="#111" text-anchor="end" stroke="#111" stroke-width="0.08">3.33</text>
<text x="118.9" y="110.24" font-size="4.1" fill="#111" text-anchor="end" stroke="#111" stroke-width="0.08">1.11</text>
<text x="118.9" y="117.51" font-size="4.1" fill="#111" text-anchor="end" stroke="#111" stroke-width="0.08">0.37</text>
<text x="118.9" y="124.78" font-size="4.1" fill="#111" text-anchor="end" stroke="#111" stroke-width="0.08">0.123</text>
<text x="118.9" y="132.05" font-size="4.1" fill="#111" text-anchor="end" stroke="#111" stroke-width="0.08">0.041</text>
<text x="118.9" y="139.32" font-size="4.1" fill="#111" text-anchor="end" stroke="#111" stroke-width="0.08">0.014</text>
<text x="118.9" y="146.59" font-size="4.1" fill="#111" text-anchor="end" stroke="#111" stroke-width="0.08">0.005</text>
<text x="118.9" y="153.86" font-size="4.1" fill="#111" text-anchor="end" stroke="#111" stroke-width="0.08">0.002</text>
<text x="118.5" y="161.2" font-size="4.1" fill="#111" text-anchor="end" stroke="#111" stroke-width="0.08">0</text>
<text x="120.3" y="164.2" font-size="4.1" fill="#111" text-anchor="middle" stroke="#111" stroke-width="0.08">0</text>
<text x="131.28" y="164.2" font-size="4.1" fill="#111" text-anchor="middle" stroke="#111" stroke-width="0.08">0.062</text>
<text x="142.86" y="164.2" font-size="4.1" fill="#111" text-anchor="middle" stroke="#111" stroke-width="0.08">0.185</text>
<text x="154.44" y="164.2" font-size="4.1" fill="#111" text-anchor="middle" stroke="#111" stroke-width="0.08">0.556</text>
<text x="166.02" y="164.2" font-size="4.1" fill="#111" text-anchor="middle" stroke="#111" stroke-width="0.08">1.67</text>
<text x="177.6" y="164.2" font-size="4.1" fill="#111" text-anchor="middle" stroke="#111" stroke-width="0.08">5</text>
<clipPath id="cp12"><rect x="193.1" y="94" width="57.9" height="65.6"/></clipPath>
<g clip-path="url(#cp12)">
<rect x="193.1" y="94" width="57.9" height="65.6" fill="#fecfbf"/>
<path d="M188.8 100.83 C188.8 100.83 191.54 100.98 193.1 101.2 C194.66 101.43 196.65 101.36 198.14 102.15 C199.64 102.94 202.07 104.81 202.07 105.94 C202.07 107.08 199.64 108.44 198.14 108.98 C196.65 109.52 194.66 109.14 193.1 109.17 C191.54 109.2 188.8 109.17 188.8 109.17 L188.8 100.83Z" fill="#d8fbcc"/>
<path d="M188.8 124.34 C188.8 124.34 190.61 124.34 193.1 123.96 C195.59 123.58 200.42 122.69 203.75 122.06 C207.08 121.43 210.59 120.01 213.08 120.16 C215.58 120.32 217.57 121.43 218.69 123.01 C219.81 124.59 218.41 127.59 219.81 129.64 C221.21 131.7 224.94 133.12 227.09 135.33 C229.24 137.54 231.58 140.07 232.7 142.92 C233.82 145.76 233.79 149.61 233.82 152.4 C233.85 155.18 233.07 157.55 232.88 159.6 C232.7 161.65 232.7 164.72 232.7 164.72 L188.8 164.72 L188.8 124.34Z" fill="#d8fbcc"/>
<path d="M203.75 144.81 C203.9 143.45 204.99 140.61 206.55 139.12 C208.1 137.64 210.75 136.06 213.08 135.9 C215.42 135.74 218.38 137.01 220.56 138.18 C222.73 139.34 224.88 141.49 226.16 142.92 C227.44 144.34 228.68 145.79 228.21 146.71 C227.75 147.62 225.88 148.22 223.36 148.41 C220.84 148.6 216.04 148.03 213.08 147.85 C210.13 147.66 207.17 147.78 205.61 147.28 C204.06 146.77 203.59 146.17 203.75 144.81Z" fill="#6cee56"/>
<path d="M206.55 89.83 C206.55 89.83 207.23 92.42 207.86 94 C208.48 95.58 208.79 97.32 210.28 99.31 C211.78 101.3 214.64 103.73 216.82 105.94 C219 108.16 221.8 109.89 223.36 112.58 C224.91 115.27 225.07 118.9 226.16 122.06 C227.25 125.22 228.34 128.38 229.89 131.54 C231.45 134.7 233.63 138.3 235.5 141.02 C237.37 143.74 239.39 147.02 241.1 147.85 C242.81 148.67 244.46 147.4 245.77 145.95 C247.08 144.5 248.29 142.16 248.95 139.12 C249.6 136.09 249.66 132.8 249.69 127.75 C249.72 122.69 249.29 114.41 249.13 108.79 C248.98 103.16 248.82 97.16 248.76 94 C248.7 90.84 248.76 89.83 248.76 89.83 L206.55 89.83Z" fill="#ff6b48"/>
<path d="M216.82 89.83 C216.82 89.83 217.32 92.42 217.94 94 C218.56 95.58 219.34 97.63 220.56 99.31 C221.77 100.98 223.98 102.15 225.23 104.05 C226.47 105.94 227.25 108 228.03 110.68 C228.81 113.37 228.96 117 229.89 120.16 C230.83 123.32 232.07 126.77 233.63 129.64 C235.19 132.52 237.52 136.47 239.23 137.42 C240.95 138.37 242.6 136.94 243.9 135.33 C245.21 133.72 246.42 131.54 247.08 127.75 C247.73 123.96 247.7 118.21 247.82 112.58 C247.95 106.96 247.82 97.79 247.82 94 C247.82 90.21 247.82 89.83 247.82 89.83 L216.82 89.83Z" fill="#ff0202"/>
<path d="M233.63 91.72 C233.79 93.62 234.1 98.68 234.56 103.1 C235.03 107.52 235.5 114.32 236.43 118.27 C237.37 122.22 238.92 125.69 240.17 126.8 C241.41 127.91 243.06 127.27 243.9 124.9 C244.74 122.53 244.99 118.11 245.21 112.58 C245.43 107.05 245.21 95.2 245.21 91.72" fill="none" stroke="#ff6e5e" stroke-width="0.35"/>
<path d="M225.23 94 C225.75 94.88 227.31 97.16 228.4 99.31 C229.49 101.46 230.89 104.05 231.76 106.89 C232.63 109.74 233.32 114.79 233.63 116.37" fill="none" stroke="#ff6e5e" stroke-width="0.35"/>
<path d="M204.68 94V159.6M216.26 94V159.6M227.84 94V159.6M239.42 94V159.6M193.1 94.2H251M193.1 101.47H251M193.1 108.74H251M193.1 116.01H251M193.1 123.28H251M193.1 130.55H251M193.1 137.82H251M193.1 145.09H251M193.1 152.36H251" stroke="#000" stroke-opacity="0.24" stroke-width="0.42" fill="none"/>
</g>
<text x="192.3" y="95.7" font-size="4.1" fill="#111" text-anchor="end" stroke="#111" stroke-width="0.08">0.5</text>
<text x="192.3" y="102.97" font-size="4.1" fill="#111" text-anchor="end" stroke="#111" stroke-width="0.08">0.25</text>
<text x="192.3" y="110.24" font-size="4.1" fill="#111" text-anchor="end" stroke="#111" stroke-width="0.08">0.125</text>
<text x="192.3" y="117.51" font-size="4.1" fill="#111" text-anchor="end" stroke="#111" stroke-width="0.08">0.063</text>
<text x="192.3" y="124.78" font-size="4.1" fill="#111" text-anchor="end" stroke="#111" stroke-width="0.08">0.031</text>
<text x="192.3" y="132.05" font-size="4.1" fill="#111" text-anchor="end" stroke="#111" stroke-width="0.08">0.016</text>
<text x="192.3" y="139.32" font-size="4.1" fill="#111" text-anchor="end" stroke="#111" stroke-width="0.08">0.008</text>
<text x="192.3" y="146.59" font-size="4.1" fill="#111" text-anchor="end" stroke="#111" stroke-width="0.08">0.004</text>
<text x="192.3" y="153.86" font-size="4.1" fill="#111" text-anchor="end" stroke="#111" stroke-width="0.08">0.002</text>
<text x="191.9" y="161.2" font-size="4.1" fill="#111" text-anchor="end" stroke="#111" stroke-width="0.08">0</text>
<text x="193.7" y="164.2" font-size="4.1" fill="#111" text-anchor="middle" stroke="#111" stroke-width="0.08">0</text>
<text x="204.68" y="164.2" font-size="4.1" fill="#111" text-anchor="middle" stroke="#111" stroke-width="0.08">0.031</text>
<text x="216.26" y="164.2" font-size="4.1" fill="#111" text-anchor="middle" stroke="#111" stroke-width="0.08">0.063</text>
<text x="227.84" y="164.2" font-size="4.1" fill="#111" text-anchor="middle" stroke="#111" stroke-width="0.08">0.125</text>
<text x="239.42" y="164.2" font-size="4.1" fill="#111" text-anchor="middle" stroke="#111" stroke-width="0.08">0.25</text>
<text x="251" y="164.2" font-size="4.1" fill="#111" text-anchor="middle" stroke="#111" stroke-width="0.08">0.5</text>
<clipPath id="cp13"><rect x="266.6" y="94" width="57.9" height="65.6"/></clipPath>
<g clip-path="url(#cp13)">
<rect x="266.6" y="94" width="57.9" height="65.6" fill="#fecfbf"/>
<path d="M261.93 108.79 C261.93 108.79 264.42 108.66 266.6 108.41 C268.78 108.16 271.74 107.46 275 107.27 C278.27 107.08 283.25 106.86 286.21 107.27 C289.17 107.68 291.41 108.54 292.75 109.74 C294.09 110.94 294.71 112.74 294.24 114.48 C293.78 116.21 292.22 119.03 289.95 120.16 C287.67 121.3 283.72 121.3 280.61 121.3 C277.5 121.3 273.6 120.42 271.27 120.16 C268.93 119.91 268.16 119.85 266.6 119.78 C265.04 119.72 261.93 119.78 261.93 119.78 L261.93 108.79Z" fill="#d8fbcc"/>
<path d="M261.93 138.74 C261.93 138.74 264.11 138.65 266.6 138.55 C269.09 138.46 273.6 137.76 276.87 138.18 C280.14 138.59 284.03 139.6 286.21 141.02 C288.39 142.44 289.14 144.5 289.95 146.71 C290.76 148.92 291.04 152.14 291.07 154.29 C291.1 156.44 290.32 158.02 290.13 159.6 C289.95 161.18 289.95 163.77 289.95 163.77 L261.93 163.77 L261.93 138.74Z" fill="#d8fbcc"/>
<path d="M292.75 137.23 C293.12 134.23 294.3 130.91 295.55 127.75 C296.8 124.59 298.04 120.8 300.22 118.27 C302.4 115.74 305.98 113.37 308.62 112.58 C311.27 111.79 314.23 112.26 316.1 113.53 C317.96 114.79 319.02 117.16 319.83 120.16 C320.64 123.17 320.67 128.06 320.95 131.54 C321.23 135.02 321.85 137.86 321.51 141.02 C321.17 144.18 320.27 147.94 318.9 150.5 C317.53 153.06 315.63 155.24 313.29 156.38 C310.96 157.51 307.69 157.8 304.89 157.32 C302.09 156.85 298.41 155.46 296.48 153.53 C294.55 151.61 293.93 148.48 293.31 145.76 C292.69 143.04 292.37 140.23 292.75 137.23Z" fill="#ff6b48"/>
<path d="M297.04 144.81 C297.26 142.09 298.45 138.18 299.29 135.33 C300.13 132.49 301.22 129.36 302.09 127.75 C302.96 126.14 303.67 125.35 304.52 125.66 C305.36 125.98 306.38 127.4 307.13 129.64 C307.88 131.89 308.41 135.96 309 139.12 C309.59 142.28 310.9 146.2 310.68 148.6 C310.46 151.01 309.12 152.55 307.69 153.53 C306.26 154.51 303.71 154.8 302.09 154.48 C300.47 154.16 298.82 153.25 297.98 151.64 C297.14 150.03 296.83 147.53 297.04 144.81Z" fill="#ff0202"/>
<path d="M277.06 130.21 C277.06 129.96 277.56 129.45 277.81 129.45 C278.06 129.45 278.55 129.96 278.55 130.21 C278.55 130.47 278.06 130.97 277.81 130.97 C277.56 130.97 277.06 130.47 277.06 130.21Z" fill="#ff6b48"/>
<path d="M288.45 130.21 C288.45 130.02 288.83 129.64 289.01 129.64 C289.2 129.64 289.57 130.02 289.57 130.21 C289.57 130.4 289.2 130.78 289.01 130.78 C288.83 130.78 288.45 130.4 288.45 130.21Z" fill="#6cee56"/>
<path d="M278.18 94V159.6M289.76 94V159.6M301.34 94V159.6M312.92 94V159.6M266.6 94.2H324.5M266.6 101.47H324.5M266.6 108.74H324.5M266.6 116.01H324.5M266.6 123.28H324.5M266.6 130.55H324.5M266.6 137.82H324.5M266.6 145.09H324.5M266.6 152.36H324.5" stroke="#000" stroke-opacity="0.24" stroke-width="0.42" fill="none"/>
</g>
<text x="265.8" y="95.7" font-size="4.1" fill="#111" text-anchor="end" stroke="#111" stroke-width="0.08">5</text>
<text x="265.8" y="102.97" font-size="4.1" fill="#111" text-anchor="end" stroke="#111" stroke-width="0.08">2.5</text>
<text x="265.8" y="110.24" font-size="4.1" fill="#111" text-anchor="end" stroke="#111" stroke-width="0.08">1.25</text>
<text x="265.8" y="117.51" font-size="4.1" fill="#111" text-anchor="end" stroke="#111" stroke-width="0.08">0.625</text>
<text x="265.8" y="124.78" font-size="4.1" fill="#111" text-anchor="end" stroke="#111" stroke-width="0.08">0.313</text>
<text x="265.8" y="132.05" font-size="4.1" fill="#111" text-anchor="end" stroke="#111" stroke-width="0.08">0.156</text>
<text x="265.8" y="139.32" font-size="4.1" fill="#111" text-anchor="end" stroke="#111" stroke-width="0.08">0.078</text>
<text x="265.8" y="146.59" font-size="4.1" fill="#111" text-anchor="end" stroke="#111" stroke-width="0.08">0.039</text>
<text x="265.8" y="153.86" font-size="4.1" fill="#111" text-anchor="end" stroke="#111" stroke-width="0.08">0.02</text>
<text x="265.4" y="161.2" font-size="4.1" fill="#111" text-anchor="end" stroke="#111" stroke-width="0.08">0</text>
<text x="267.2" y="164.2" font-size="4.1" fill="#111" text-anchor="middle" stroke="#111" stroke-width="0.08">0</text>
<text x="278.18" y="164.2" font-size="4.1" fill="#111" text-anchor="middle" stroke="#111" stroke-width="0.08">0.063</text>
<text x="289.76" y="164.2" font-size="4.1" fill="#111" text-anchor="middle" stroke="#111" stroke-width="0.08">0.125</text>
<text x="301.34" y="164.2" font-size="4.1" fill="#111" text-anchor="middle" stroke="#111" stroke-width="0.08">0.25</text>
<text x="312.92" y="164.2" font-size="4.1" fill="#111" text-anchor="middle" stroke="#111" stroke-width="0.08">0.5</text>
<text x="324.5" y="164.2" font-size="4.1" fill="#111" text-anchor="middle" stroke="#111" stroke-width="0.08">1</text>
<clipPath id="cp14"><rect x="340" y="94" width="57.9" height="65.6"/></clipPath>
<g clip-path="url(#cp14)">
<rect x="340" y="94" width="57.9" height="65.6" fill="#fecfbf"/>
<path d="M345.23 89.83 C345.23 89.83 346.23 92.58 347.47 94 C348.72 95.42 351.05 96.69 352.7 98.36 C354.35 100.04 356.4 101.68 357.37 104.05 C358.34 106.42 358.8 109.58 358.49 112.58 C358.18 115.58 356.47 119.22 355.5 122.06 C354.54 124.9 353.42 127.12 352.7 129.64 C351.98 132.17 351.05 134.7 351.21 137.23 C351.36 139.76 352.3 142.28 353.63 144.81 C354.97 147.34 356.9 150.63 359.24 152.4 C361.57 154.16 364.06 154.83 367.64 155.43 C371.22 156.03 375.67 155.9 380.72 156 C385.76 156.09 393.54 156 397.9 156 C402.26 156 406.87 156 406.87 156 L406.87 89.83 L345.23 89.83Z" fill="#ff6b48"/>
<path d="M361.11 89.83 C361.11 89.83 361.91 92.26 363.16 94 C364.41 95.74 367.18 97.95 368.58 100.26 C369.98 102.56 371.53 105.15 371.56 107.84 C371.6 110.53 369.57 113.69 368.76 116.37 C367.95 119.06 367.36 121.43 366.71 123.96 C366.05 126.48 365 128.7 364.84 131.54 C364.69 134.38 365.31 138.18 365.77 141.02 C366.24 143.86 366.4 146.61 367.64 148.6 C368.89 150.59 370.76 152.14 373.25 152.96 C375.74 153.79 378.48 153.44 382.58 153.53 C386.69 153.63 393.85 153.53 397.9 153.53 C401.95 153.53 406.87 153.53 406.87 153.53 L406.87 89.83 L361.11 89.83Z" fill="#ff0202"/>
<path d="M373.25 156.57 L386.32 156.38 L399.39 156.38 L399.39 157.89 L386.32 157.7 L374.18 157.7 Z" fill="#fde0d6"/>
<path d="M398.46 114.1 C397.43 115.74 395.19 121.21 392.3 123.96 C389.4 126.71 384.08 128.06 381.09 130.59 C378.1 133.12 375.55 136.28 374.37 139.12 C373.18 141.97 373.09 145.66 373.99 147.66 C374.9 149.65 377.11 150.34 379.78 151.07 C382.46 151.79 386.94 151.79 390.06 152.02 C393.17 152.24 397.06 152.33 398.46 152.4" fill="none" stroke="#ff6e5e" stroke-width="0.35"/>
<path d="M351.58 94V159.6M363.16 94V159.6M374.74 94V159.6M386.32 94V159.6M340 94.2H397.9M340 101.47H397.9M340 108.74H397.9M340 116.01H397.9M340 123.28H397.9M340 130.55H397.9M340 137.82H397.9M340 145.09H397.9M340 152.36H397.9" stroke="#000" stroke-opacity="0.24" stroke-width="0.42" fill="none"/>
</g>
<text x="339.2" y="95.7" font-size="4.1" fill="#111" text-anchor="end" stroke="#111" stroke-width="0.08">5</text>
<text x="339.2" y="102.97" font-size="4.1" fill="#111" text-anchor="end" stroke="#111" stroke-width="0.08">2.5</text>
<text x="339.2" y="110.24" font-size="4.1" fill="#111" text-anchor="end" stroke="#111" stroke-width="0.08">1.25</text>
<text x="339.2" y="117.51" font-size="4.1" fill="#111" text-anchor="end" stroke="#111" stroke-width="0.08">0.625</text>
<text x="339.2" y="124.78" font-size="4.1" fill="#111" text-anchor="end" stroke="#111" stroke-width="0.08">0.313</text>
<text x="339.2" y="132.05" font-size="4.1" fill="#111" text-anchor="end" stroke="#111" stroke-width="0.08">0.156</text>
<text x="339.2" y="139.32" font-size="4.1" fill="#111" text-anchor="end" stroke="#111" stroke-width="0.08">0.078</text>
<text x="339.2" y="146.59" font-size="4.1" fill="#111" text-anchor="end" stroke="#111" stroke-width="0.08">0.039</text>
<text x="339.2" y="153.86" font-size="4.1" fill="#111" text-anchor="end" stroke="#111" stroke-width="0.08">0.02</text>
<text x="338.8" y="161.2" font-size="4.1" fill="#111" text-anchor="end" stroke="#111" stroke-width="0.08">0</text>
<text x="340.6" y="164.2" font-size="4.1" fill="#111" text-anchor="middle" stroke="#111" stroke-width="0.08">0</text>
<text x="351.58" y="164.2" font-size="4.1" fill="#111" text-anchor="middle" stroke="#111" stroke-width="0.08">0.063</text>
<text x="363.16" y="164.2" font-size="4.1" fill="#111" text-anchor="middle" stroke="#111" stroke-width="0.08">0.125</text>
<text x="374.74" y="164.2" font-size="4.1" fill="#111" text-anchor="middle" stroke="#111" stroke-width="0.08">0.25</text>
<text x="386.32" y="164.2" font-size="4.1" fill="#111" text-anchor="middle" stroke="#111" stroke-width="0.08">0.5</text>
<text x="397.9" y="164.2" font-size="4.1" fill="#111" text-anchor="middle" stroke="#111" stroke-width="0.08">1</text>
<clipPath id="cp15"><rect x="413.4" y="94" width="57.9" height="65.6"/></clipPath>
<g clip-path="url(#cp15)">
<rect x="413.4" y="94" width="57.9" height="65.6" fill="#fecfbf"/>
<path d="M408.7 109.93 C408.7 109.93 411.52 109.89 413.4 109.55 C415.28 109.2 417.94 109.23 419.98 107.84 C422.02 106.45 423.8 103.32 425.62 101.2 C427.44 99.09 429.63 96.34 430.88 95.14 C432.14 93.94 432.45 94.88 433.14 94 C433.83 93.12 435.02 89.83 435.02 89.83 L444.42 89.83 C444.42 89.83 445.11 93.05 445.55 94 C445.98 94.95 446.58 94.47 447.05 95.52 C447.52 96.56 448.3 97.73 448.37 100.26 C448.43 102.78 447.93 107.37 447.43 110.68 C446.92 114 445.08 117.79 445.36 120.16 C445.64 122.53 447.24 123.8 449.12 124.9 C451 126.01 454.73 125.85 456.64 126.8 C458.55 127.75 460.43 128.85 460.58 130.59 C460.74 132.33 459.17 135.49 457.58 137.23 C455.98 138.97 452.41 139.12 451 141.02 C449.59 142.92 450.03 146.23 449.12 148.6 C448.21 150.97 446.45 153.41 445.55 155.24 C444.64 157.07 444.1 158.18 443.67 159.6 C443.23 161.02 442.91 163.77 442.91 163.77 L429.75 163.77 C429.75 163.77 429.38 161.34 429 159.6 C428.63 157.86 428.69 155.18 427.5 153.34 C426.31 151.51 424.21 149.55 421.86 148.6 C419.51 147.66 415.59 147.85 413.4 147.66 C411.21 147.47 408.7 147.47 408.7 147.47 L408.7 109.93Z" fill="#d8fbcc"/>
<path d="M454.57 162.82 C454.57 162.82 454.76 160.96 454.95 159.6 C455.13 158.24 454.95 155.71 455.7 154.67 C456.45 153.63 458.2 153.09 459.46 153.34 C460.71 153.6 462.43 155.14 463.22 156.19 C464 157.23 463.94 158.49 464.16 159.6 C464.38 160.71 464.53 162.82 464.53 162.82 L454.57 162.82Z" fill="#d8fbcc"/>
<path d="M474.5 119.78 C474.5 119.78 472.3 120.61 471.3 121.3 C470.3 122 468.73 122.57 468.48 123.96 C468.23 125.35 469.33 128.25 469.8 129.64 C470.27 131.03 470.52 131.6 471.3 132.3 C472.08 132.99 474.5 133.82 474.5 133.82 L474.5 119.78Z" fill="#ff6b48"/>
<path d="M459.27 115.99 C459.27 115.8 459.64 115.42 459.83 115.42 C460.02 115.42 460.4 115.8 460.4 115.99 C460.4 116.18 460.02 116.56 459.83 116.56 C459.64 116.56 459.27 116.18 459.27 115.99Z" fill="#6cee56"/>
<path d="M424.98 94V159.6M436.56 94V159.6M448.14 94V159.6M459.72 94V159.6M413.4 94.2H471.3M413.4 101.47H471.3M413.4 108.74H471.3M413.4 116.01H471.3M413.4 123.28H471.3M413.4 130.55H471.3M413.4 137.82H471.3M413.4 145.09H471.3M413.4 152.36H471.3" stroke="#000" stroke-opacity="0.24" stroke-width="0.42" fill="none"/>
</g>
<text x="412.6" y="95.7" font-size="4.1" fill="#111" text-anchor="end" stroke="#111" stroke-width="0.08">5</text>
<text x="412.6" y="102.97" font-size="4.1" fill="#111" text-anchor="end" stroke="#111" stroke-width="0.08">2.5</text>
<text x="412.6" y="110.24" font-size="4.1" fill="#111" text-anchor="end" stroke="#111" stroke-width="0.08">1.25</text>
<text x="412.6" y="117.51" font-size="4.1" fill="#111" text-anchor="end" stroke="#111" stroke-width="0.08">0.625</text>
<text x="412.6" y="124.78" font-size="4.1" fill="#111" text-anchor="end" stroke="#111" stroke-width="0.08">0.313</text>
<text x="412.6" y="132.05" font-size="4.1" fill="#111" text-anchor="end" stroke="#111" stroke-width="0.08">0.156</text>
<text x="412.6" y="139.32" font-size="4.1" fill="#111" text-anchor="end" stroke="#111" stroke-width="0.08">0.078</text>
<text x="412.6" y="146.59" font-size="4.1" fill="#111" text-anchor="end" stroke="#111" stroke-width="0.08">0.039</text>
<text x="412.6" y="153.86" font-size="4.1" fill="#111" text-anchor="end" stroke="#111" stroke-width="0.08">0.02</text>
<text x="412.2" y="161.2" font-size="4.1" fill="#111" text-anchor="end" stroke="#111" stroke-width="0.08">0</text>
<text x="414" y="164.2" font-size="4.1" fill="#111" text-anchor="middle" stroke="#111" stroke-width="0.08">0</text>
<text x="424.98" y="164.2" font-size="4.1" fill="#111" text-anchor="middle" stroke="#111" stroke-width="0.08">0.313</text>
<text x="436.56" y="164.2" font-size="4.1" fill="#111" text-anchor="middle" stroke="#111" stroke-width="0.08">0.625</text>
<text x="448.14" y="164.2" font-size="4.1" fill="#111" text-anchor="middle" stroke="#111" stroke-width="0.08">1.25</text>
<text x="459.72" y="164.2" font-size="4.1" fill="#111" text-anchor="middle" stroke="#111" stroke-width="0.08">2.5</text>
<text x="471.3" y="164.2" font-size="4.1" fill="#111" text-anchor="middle" stroke="#111" stroke-width="0.08">5</text>
<path d="M45.8 165.5 L104.3 166.3 L104.3 174.7 L45.8 166 Z" fill="#2a92f0"/>
<path d="M119.3 165.5 L177.8 166.3 L177.8 174.7 L119.3 166 Z" fill="#2a92f0"/>
<path d="M192.7 165.5 L251.2 166.3 L251.2 174.7 L192.7 166 Z" fill="#2a92f0"/>
<path d="M266.2 165.5 L324.7 166.3 L324.7 174.7 L266.2 166 Z" fill="#2a92f0"/>
<path d="M339.6 165.5 L398.1 166.3 L398.1 174.7 L339.6 166 Z" fill="#2a92f0"/>
<path d="M413 165.5 L471.5 166.3 L471.5 174.7 L413 166 Z" fill="#2a92f0"/>
<text x="259.3" y="183.6" font-size="7" font-weight="bold" fill="#000" text-anchor="middle" stroke="#000" stroke-width="0.14">Azenosertib</text>
<text x="476.6" y="64.6" font-size="6.2" font-weight="bold" fill="#000" stroke="#000" stroke-width="0.14">Synergy score</text>
<rect x="482" y="70.8" width="11.8" height="49.4" fill="url(#syn)" stroke="#000" stroke-width="0.7"/>
<path d="M493.8 70.8H495.2" stroke="#000" stroke-width="0.6"/>
<text x="496" y="72.7" font-size="5.3" fill="#000" stroke="#000" stroke-width="0.14">30</text>
<path d="M493.8 79H495.2" stroke="#000" stroke-width="0.6"/>
<text x="496" y="80.9" font-size="5.3" fill="#000" stroke="#000" stroke-width="0.14">20</text>
<path d="M493.8 87.2H495.2" stroke="#000" stroke-width="0.6"/>
<text x="496" y="89.1" font-size="5.3" fill="#000" stroke="#000" stroke-width="0.14">10</text>
<path d="M493.8 95.4H495.2" stroke="#000" stroke-width="0.6"/>
<text x="496" y="97.3" font-size="5.3" fill="#000" stroke="#000" stroke-width="0.14">0</text>
<path d="M493.8 103.6H495.2" stroke="#000" stroke-width="0.6"/>
<text x="496" y="105.5" font-size="5.3" fill="#000" stroke="#000" stroke-width="0.14">−10</text>
<path d="M493.8 111.8H495.2" stroke="#000" stroke-width="0.6"/>
<text x="496" y="113.7" font-size="5.3" fill="#000" stroke="#000" stroke-width="0.14">−20</text>
<path d="M493.8 120H495.2" stroke="#000" stroke-width="0.6"/>
<text x="496" y="121.9" font-size="5.3" fill="#000" stroke="#000" stroke-width="0.14">−30</text>
</g>
<g id="panelB">
<text x="0.9" y="206.4" font-size="10.2" font-weight="bold" fill="#000" stroke="#000" stroke-width="0.14">B</text>
<text x="75.3" y="211.6" font-size="7" fill="#111" text-anchor="middle" stroke="#111" stroke-width="0.14">Sotorasib</text>
<text x="127.6" y="211.6" font-size="7" fill="#111" text-anchor="middle" stroke="#111" stroke-width="0.14">Adagrasib</text>
<path d="M49 214.4H98.8M102.2 214.4H152.5" stroke="#111" stroke-width="0.8"/>
<text x="46" y="224.7" font-size="7" fill="#111" text-anchor="end" stroke="#111" stroke-width="0.14">Azenosertib</text>
<text x="46" y="236" font-size="7" fill="#111" text-anchor="end" stroke="#111" stroke-width="0.14">KRASi</text>
<path d="M51.9 222.6H56.1M66.3 222.6H70.5M68.4 220.5V224.7M79.2 222.6H83.4M90.5 222.6H94.7M92.6 220.5V224.7M106.9 222.6H111.1M121.4 222.6H125.6M123.5 220.5V224.7M134.2 222.6H138.4M145.5 222.6H149.7M147.6 220.5V224.7" stroke="#111" stroke-width="0.7" fill="none"/>
<path d="M51.9 233.2H56.1M66.3 233.2H70.5M79.2 233.2H83.4M81.3 231.1V235.3M90.5 233.2H94.7M92.6 231.1V235.3M106.9 233.2H111.1M121.4 233.2H125.6M134.2 233.2H138.4M136.3 231.1V235.3M145.5 233.2H149.7M147.6 231.1V235.3" stroke="#111" stroke-width="0.7" fill="none"/>
<text x="156.1" y="228.4" font-size="7" font-weight="bold" fill="#000" stroke="#000" stroke-width="0.14">NCI-H2122 (2D)</text>
<clipPath id="bx00"><rect x="47" y="240.3" width="51.5" height="14.1"/></clipPath>
<rect x="47" y="240.3" width="51.5" height="14.1" fill="url(#boxbg)"/>
<g clip-path="url(#bx00)">
<rect x="48.6" y="241.5" width="11.4" height="11.7" fill="#f5f5f5"/>
<rect x="48.9" y="244.55" width="10.8" height="7" rx="0.7" fill="url(#bg1)" opacity="0.67"/>
<rect x="61.5" y="241.5" width="11.4" height="11.7" fill="#f5f5f5"/>
<rect x="61.8" y="244.55" width="10.8" height="7" rx="0.7" fill="url(#bg1)" opacity="0.15"/>
<rect x="74.1" y="241.5" width="11.4" height="11.7" fill="#f5f5f5"/>
<rect x="74.4" y="244.55" width="10.8" height="7" rx="0.7" fill="url(#bg1)" opacity="0.19"/>
<rect x="86.5" y="241.5" width="11.4" height="11.7" fill="#f5f5f5"/>
<rect x="86.8" y="243.85" width="10.8" height="7" rx="0.7" fill="url(#bg1)" opacity="0.02"/>
</g>
<rect x="47" y="240.3" width="51.5" height="14.1" fill="none" stroke="#1a1a1a" stroke-width="0.75" rx="0.4"/>
<clipPath id="bx04"><rect x="100.5" y="240.3" width="50.4" height="14.1"/></clipPath>
<rect x="100.5" y="240.3" width="50.4" height="14.1" fill="url(#boxbg)"/>
<g clip-path="url(#bx04)">
<rect x="101.3" y="241.5" width="11.4" height="11.7" fill="#f5f5f5"/>
<rect x="101.6" y="243.45" width="10.8" height="7" rx="0.7" fill="url(#bg1)" opacity="0.63"/>
<rect x="114.1" y="241.5" width="11.4" height="11.7" fill="#f5f5f5"/>
<rect x="114.4" y="244.25" width="10.8" height="7" rx="0.7" fill="url(#bg1)" opacity="0.26"/>
<rect x="126.5" y="241.5" width="11.4" height="11.7" fill="#f5f5f5"/>
<rect x="126.8" y="244.25" width="10.8" height="7" rx="0.7" fill="url(#bg1)" opacity="0.54"/>
<rect x="138.9" y="241.5" width="11.4" height="11.7" fill="#f5f5f5"/>
<rect x="139.2" y="244.25" width="10.8" height="7" rx="0.7" fill="url(#bg1)" opacity="0.19"/>
</g>
<rect x="100.5" y="240.3" width="50.4" height="14.1" fill="none" stroke="#1a1a1a" stroke-width="0.75" rx="0.4"/>
<text x="156.1" y="248.8" font-size="7" fill="#111" stroke="#111" stroke-width="0.14">p-CDK1 (Y15)</text>
<clipPath id="bx10"><rect x="47" y="256.3" width="51.5" height="14.3"/></clipPath>
<rect x="47" y="256.3" width="51.5" height="14.3" fill="url(#boxbg)"/>
<g clip-path="url(#bx10)">
<rect x="48.6" y="257.5" width="11.4" height="11.9" fill="#f5f5f5"/>
<rect x="48.9" y="260.12" width="10.8" height="7.66" rx="0.7" fill="url(#bg1)" opacity="0.73"/>
<rect x="61.5" y="257.5" width="11.4" height="11.9" fill="#f5f5f5"/>
<rect x="61.8" y="259.73" width="10.8" height="7.44" rx="0.7" fill="url(#bg1)" opacity="0.74"/>
<rect x="74.1" y="257.5" width="11.4" height="11.9" fill="#f5f5f5"/>
<rect x="74.4" y="259.75" width="10.8" height="7" rx="0.7" fill="url(#bg1)" opacity="0.65"/>
<rect x="86.5" y="257.5" width="11.4" height="11.9" fill="#f5f5f5"/>
<rect x="86.8" y="259.86" width="10.8" height="6.78" rx="0.7" fill="url(#bg1)" opacity="0.65"/>
</g>
<rect x="47" y="256.3" width="51.5" height="14.3" fill="none" stroke="#1a1a1a" stroke-width="0.75" rx="0.4"/>
<clipPath id="bx14"><rect x="100.5" y="256.3" width="50.4" height="14.3"/></clipPath>
<rect x="100.5" y="256.3" width="50.4" height="14.3" fill="url(#boxbg)"/>
<g clip-path="url(#bx14)">
<rect x="101.3" y="257.5" width="11.4" height="11.9" fill="#f5f5f5"/>
<rect x="101.6" y="260.44" width="10.8" height="7.22" rx="0.7" fill="url(#bg1)" opacity="0.65"/>
<rect x="114.1" y="257.5" width="11.4" height="11.9" fill="#f5f5f5"/>
<rect x="114.4" y="260.02" width="10.8" height="7.66" rx="0.7" fill="url(#bg1)" opacity="0.8"/>
<rect x="126.5" y="257.5" width="11.4" height="11.9" fill="#f5f5f5"/>
<rect x="126.8" y="260.33" width="10.8" height="7.44" rx="0.7" fill="url(#bg1)" opacity="0.8"/>
<rect x="138.9" y="257.5" width="11.4" height="11.9" fill="#f5f5f5"/>
<rect x="139.2" y="260.64" width="10.8" height="7.22" rx="0.7" fill="url(#bg1)" opacity="0.69"/>
</g>
<rect x="100.5" y="256.3" width="50.4" height="14.3" fill="none" stroke="#1a1a1a" stroke-width="0.75" rx="0.4"/>
<rect x="46.9" y="270.8" width="51.6" height="2" fill="#8e8e8e"/>
<text x="156.1" y="266.5" font-size="7" fill="#111" stroke="#111" stroke-width="0.14">T-CDK1</text>
<clipPath id="bx20"><rect x="47" y="272.5" width="51.5" height="14.8"/></clipPath>
<rect x="47" y="272.5" width="51.5" height="14.8" fill="url(#boxbg)"/>
<g clip-path="url(#bx20)">
<rect x="48.6" y="273.7" width="11.4" height="12.4" fill="#f5f5f5"/>
<rect x="48.9" y="274.55" width="10.8" height="5.9" rx="0.7" fill="url(#bg1)" opacity="0.17"/>
<rect x="48.9" y="277.69" width="10.8" height="7.22" rx="0.7" fill="url(#bg1)" opacity="0.37"/>
<rect x="48.5" y="273.15" width="11.6" height="13.5" rx="0.7" fill="url(#bg2)" opacity="0.21"/>
<rect x="61.5" y="273.7" width="11.4" height="12.4" fill="#f5f5f5"/>
<rect x="61.8" y="274.55" width="10.8" height="5.9" rx="0.7" fill="url(#bg1)" opacity="0.17"/>
<rect x="61.8" y="277.69" width="10.8" height="7.22" rx="0.7" fill="url(#bg1)" opacity="0.37"/>
<rect x="61.4" y="273.15" width="11.6" height="13.5" rx="0.7" fill="url(#bg2)" opacity="0.21"/>
<rect x="74.1" y="273.7" width="11.4" height="12.4" fill="#f5f5f5"/>
<rect x="74.4" y="274.55" width="10.8" height="5.9" rx="0.7" fill="url(#bg1)" opacity="0.12"/>
<rect x="74.4" y="278" width="10.8" height="7" rx="0.7" fill="url(#bg1)" opacity="0.26"/>
<rect x="74" y="273.15" width="11.6" height="13.5" rx="0.7" fill="url(#bg2)" opacity="0.18"/>
<rect x="86.5" y="273.7" width="11.4" height="12.4" fill="#f5f5f5"/>
<rect x="86.8" y="274.75" width="10.8" height="5.9" rx="0.7" fill="url(#bg1)" opacity="0.08"/>
<rect x="86.8" y="278.31" width="10.8" height="6.78" rx="0.7" fill="url(#bg1)" opacity="0.2"/>
<rect x="86.4" y="273.15" width="11.6" height="13.5" rx="0.7" fill="url(#bg2)" opacity="0.14"/>
</g>
<rect x="47" y="272.5" width="51.5" height="14.8" fill="none" stroke="#1a1a1a" stroke-width="0.75" rx="0.4"/>
<clipPath id="bx24"><rect x="100.5" y="272.5" width="50.4" height="14.8"/></clipPath>
<rect x="100.5" y="272.5" width="50.4" height="14.8" fill="url(#boxbg)"/>
<g clip-path="url(#bx24)">
<rect x="101.3" y="273.7" width="11.4" height="12.4" fill="#f5f5f5"/>
<rect x="101.6" y="277.53" width="10.8" height="6.34" rx="0.7" fill="url(#bg1)" opacity="0.09"/>
<rect x="101.2" y="273.9" width="11.6" height="12" rx="0.7" fill="url(#bg2)" opacity="0.06"/>
<rect x="114.1" y="273.7" width="11.4" height="12.4" fill="#f5f5f5"/>
<rect x="114.4" y="275.88" width="10.8" height="7.44" rx="0.7" fill="url(#bg1)" opacity="0.32"/>
<rect x="114" y="273.9" width="11.6" height="12" rx="0.7" fill="url(#bg2)" opacity="0.11"/>
<rect x="126.5" y="273.7" width="11.4" height="12.4" fill="#f5f5f5"/>
<rect x="126.8" y="276.71" width="10.8" height="6.78" rx="0.7" fill="url(#bg1)" opacity="0.2"/>
<rect x="126.4" y="273.9" width="11.6" height="12" rx="0.7" fill="url(#bg2)" opacity="0.08"/>
<rect x="138.9" y="273.7" width="11.4" height="12.4" fill="#f5f5f5"/>
<rect x="139.2" y="276.07" width="10.8" height="7.66" rx="0.7" fill="url(#bg1)" opacity="0.35"/>
<rect x="138.8" y="273.9" width="11.6" height="12" rx="0.7" fill="url(#bg2)" opacity="0.14"/>
</g>
<rect x="100.5" y="272.5" width="50.4" height="14.8" fill="none" stroke="#1a1a1a" stroke-width="0.75" rx="0.4"/>
<text x="156.1" y="281.3" font-size="7" fill="#111" stroke="#111" stroke-width="0.14">p-ERK1/2 (T202/Y204)</text>
<clipPath id="bx30"><rect x="47" y="289.1" width="51.5" height="14.3"/></clipPath>
<rect x="47" y="289.1" width="51.5" height="14.3" fill="url(#boxbg)"/>
<g clip-path="url(#bx30)">
<rect x="48.6" y="290.3" width="11.4" height="11.9" fill="#f5f5f5"/>
<rect x="48.9" y="292.03" width="10.8" height="9.64" rx="0.7" fill="url(#bg1)" opacity="0.56"/>
<rect x="48.5" y="290.75" width="11.6" height="11" rx="0.7" fill="url(#bg2)" opacity="0.11"/>
<rect x="61.5" y="290.3" width="11.4" height="11.9" fill="#f5f5f5"/>
<rect x="61.8" y="291.83" width="10.8" height="9.64" rx="0.7" fill="url(#bg1)" opacity="0.54"/>
<rect x="61.4" y="290.75" width="11.6" height="11" rx="0.7" fill="url(#bg2)" opacity="0.11"/>
<rect x="74.1" y="290.3" width="11.4" height="11.9" fill="#f5f5f5"/>
<rect x="74.4" y="291.43" width="10.8" height="9.64" rx="0.7" fill="url(#bg1)" opacity="0.58"/>
<rect x="74" y="290.75" width="11.6" height="11" rx="0.7" fill="url(#bg2)" opacity="0.11"/>
<rect x="86.5" y="290.3" width="11.4" height="11.9" fill="#f5f5f5"/>
<rect x="86.8" y="291.54" width="10.8" height="9.42" rx="0.7" fill="url(#bg1)" opacity="0.52"/>
<rect x="86.4" y="290.75" width="11.6" height="11" rx="0.7" fill="url(#bg2)" opacity="0.11"/>
</g>
<rect x="47" y="289.1" width="51.5" height="14.3" fill="none" stroke="#1a1a1a" stroke-width="0.75" rx="0.4"/>
<clipPath id="bx34"><rect x="100.5" y="289.1" width="50.4" height="14.3"/></clipPath>
<rect x="100.5" y="289.1" width="50.4" height="14.3" fill="url(#boxbg)"/>
<g clip-path="url(#bx34)">
<rect x="101.3" y="290.3" width="11.4" height="11.9" fill="#f5f5f5"/>
<rect x="101.6" y="292.76" width="10.8" height="8.98" rx="0.7" fill="url(#bg1)" opacity="0.67"/>
<rect x="101.2" y="290.75" width="11.6" height="11" rx="0.7" fill="url(#bg2)" opacity="0.09"/>
<rect x="114.1" y="290.3" width="11.4" height="11.9" fill="#f5f5f5"/>
<rect x="114.4" y="292.58" width="10.8" height="8.54" rx="0.7" fill="url(#bg1)" opacity="0.63"/>
<rect x="114" y="290.75" width="11.6" height="11" rx="0.7" fill="url(#bg2)" opacity="0.09"/>
<rect x="126.5" y="290.3" width="11.4" height="11.9" fill="#f5f5f5"/>
<rect x="126.8" y="292.45" width="10.8" height="9.2" rx="0.7" fill="url(#bg1)" opacity="0.73"/>
<rect x="126.4" y="290.75" width="11.6" height="11" rx="0.7" fill="url(#bg2)" opacity="0.09"/>
<rect x="138.9" y="290.3" width="11.4" height="11.9" fill="#f5f5f5"/>
<rect x="139.2" y="292.67" width="10.8" height="8.76" rx="0.7" fill="url(#bg1)" opacity="0.67"/>
<rect x="138.8" y="290.75" width="11.6" height="11" rx="0.7" fill="url(#bg2)" opacity="0.09"/>
</g>
<rect x="100.5" y="289.1" width="50.4" height="14.3" fill="none" stroke="#1a1a1a" stroke-width="0.75" rx="0.4"/>
<text x="156.1" y="299.3" font-size="7" fill="#111" stroke="#111" stroke-width="0.14">T-ERK1/2</text>
<clipPath id="bx40"><rect x="47" y="305.5" width="51.5" height="14.5"/></clipPath>
<rect x="47" y="305.5" width="51.5" height="14.5" fill="url(#boxbg)"/>
<g clip-path="url(#bx40)">
<rect x="48.6" y="306.7" width="11.4" height="12.1" fill="#f5f5f5"/>
<rect x="48.9" y="308.18" width="10.8" height="10.74" rx="0.7" fill="url(#bg1)" opacity="0.82"/>
<rect x="61.5" y="306.7" width="11.4" height="12.1" fill="#f5f5f5"/>
<rect x="61.8" y="308.29" width="10.8" height="10.52" rx="0.7" fill="url(#bg1)" opacity="0.76"/>
<rect x="74.1" y="306.7" width="11.4" height="12.1" fill="#f5f5f5"/>
<rect x="74.4" y="310.65" width="10.8" height="7" rx="0.7" fill="url(#bg1)" opacity="0.22"/>
<rect x="86.5" y="306.7" width="11.4" height="12.1" fill="#f5f5f5"/>
<rect x="86.8" y="311.05" width="10.8" height="7" rx="0.7" fill="url(#bg1)" opacity="0.19"/>
</g>
<rect x="47" y="305.5" width="51.5" height="14.5" fill="none" stroke="#1a1a1a" stroke-width="0.75" rx="0.4"/>
<clipPath id="bx44"><rect x="100.5" y="305.5" width="50.4" height="14.5"/></clipPath>
<rect x="100.5" y="305.5" width="50.4" height="14.5" fill="url(#boxbg)"/>
<g clip-path="url(#bx44)">
<rect x="101.3" y="306.7" width="11.4" height="12.1" fill="#f5f5f5"/>
<rect x="101.6" y="308.9" width="10.8" height="8.1" rx="0.7" fill="url(#bg1)" opacity="0.67"/>
<rect x="114.1" y="306.7" width="11.4" height="12.1" fill="#f5f5f5"/>
<rect x="114.4" y="308.92" width="10.8" height="7.66" rx="0.7" fill="url(#bg1)" opacity="0.58"/>
<rect x="126.5" y="306.7" width="11.4" height="12.1" fill="#f5f5f5"/>
<rect x="126.8" y="310.18" width="10.8" height="6.34" rx="0.7" fill="url(#bg1)" opacity="0.09"/>
<rect x="138.9" y="306.7" width="11.4" height="12.1" fill="#f5f5f5"/>
<rect x="139.2" y="310.58" width="10.8" height="6.34" rx="0.7" fill="url(#bg1)" opacity="0.05"/>
</g>
<rect x="100.5" y="305.5" width="50.4" height="14.5" fill="none" stroke="#1a1a1a" stroke-width="0.75" rx="0.4"/>
<text x="156.1" y="315" font-size="7" fill="#111" stroke="#111" stroke-width="0.14">p-S6 (S240/244)</text>
<clipPath id="bx50"><rect x="47" y="322.9" width="51.5" height="15"/></clipPath>
<rect x="47" y="322.9" width="51.5" height="15" fill="url(#boxbg)"/>
<g clip-path="url(#bx50)">
<rect x="48.6" y="324.1" width="11.4" height="12.6" fill="#f5f5f5"/>
<rect x="48.9" y="325.54" width="10.8" height="10.52" rx="0.7" fill="url(#bg1)" opacity="0.63"/>
<rect x="61.5" y="324.1" width="11.4" height="12.6" fill="#f5f5f5"/>
<rect x="61.8" y="325.25" width="10.8" height="10.3" rx="0.7" fill="url(#bg1)" opacity="0.63"/>
<rect x="74.1" y="324.1" width="11.4" height="12.6" fill="#f5f5f5"/>
<rect x="74.4" y="325.25" width="10.8" height="10.3" rx="0.7" fill="url(#bg1)" opacity="0.63"/>
<rect x="86.5" y="324.1" width="11.4" height="12.6" fill="#f5f5f5"/>
<rect x="86.8" y="325.09" width="10.8" height="9.42" rx="0.7" fill="url(#bg1)" opacity="0.58"/>
</g>
<rect x="47" y="322.9" width="51.5" height="15" fill="none" stroke="#1a1a1a" stroke-width="0.75" rx="0.4"/>
<clipPath id="bx54"><rect x="100.5" y="322.9" width="50.4" height="15"/></clipPath>
<rect x="100.5" y="322.9" width="50.4" height="15" fill="url(#boxbg)"/>
<g clip-path="url(#bx54)">
<rect x="101.3" y="324.1" width="11.4" height="12.6" fill="#f5f5f5"/>
<rect x="101.6" y="327.72" width="10.8" height="6.56" rx="0.7" fill="url(#bg1)" opacity="0.54"/>
<rect x="114.1" y="324.1" width="11.4" height="12.6" fill="#f5f5f5"/>
<rect x="114.4" y="327.68" width="10.8" height="7.44" rx="0.7" fill="url(#bg1)" opacity="0.71"/>
<rect x="126.5" y="324.1" width="11.4" height="12.6" fill="#f5f5f5"/>
<rect x="126.8" y="328.23" width="10.8" height="6.34" rx="0.7" fill="url(#bg1)" opacity="0.56"/>
<rect x="138.9" y="324.1" width="11.4" height="12.6" fill="#f5f5f5"/>
<rect x="139.2" y="328.12" width="10.8" height="6.56" rx="0.7" fill="url(#bg1)" opacity="0.56"/>
</g>
<rect x="100.5" y="322.9" width="50.4" height="15" fill="none" stroke="#1a1a1a" stroke-width="0.75" rx="0.4"/>
<text x="156.1" y="332.8" font-size="7" fill="#111" stroke="#111" stroke-width="0.14">T-S6</text>
<clipPath id="bx60"><rect x="47" y="340.4" width="51.5" height="15"/></clipPath>
<rect x="47" y="340.4" width="51.5" height="15" fill="url(#boxbg)"/>
<g clip-path="url(#bx60)">
<rect x="48.6" y="341.6" width="11.4" height="12.6" fill="#f5f5f5"/>
<rect x="48.9" y="344.4" width="10.8" height="7" rx="0.7" fill="url(#bg1)" opacity="0.03"/>
<rect x="61.5" y="341.6" width="11.4" height="12.6" fill="#f5f5f5"/>
<rect x="61.8" y="344.62" width="10.8" height="6.56" rx="0.7" fill="url(#bg1)" opacity="0.09"/>
<rect x="74.1" y="341.6" width="11.4" height="12.6" fill="#f5f5f5"/>
<rect x="74.4" y="344.62" width="10.8" height="6.56" rx="0.7" fill="url(#bg1)" opacity="0.13"/>
<rect x="86.5" y="341.6" width="11.4" height="12.6" fill="#f5f5f5"/>
<rect x="86.8" y="344.91" width="10.8" height="6.78" rx="0.7" fill="url(#bg1)" opacity="0.56"/>
</g>
<rect x="47" y="340.4" width="51.5" height="15" fill="none" stroke="#1a1a1a" stroke-width="0.75" rx="0.4"/>
<clipPath id="bx64"><rect x="100.5" y="340.4" width="50.4" height="15"/></clipPath>
<rect x="100.5" y="340.4" width="50.4" height="15" fill="url(#boxbg)"/>
<g clip-path="url(#bx64)">
<rect x="101.3" y="341.6" width="11.4" height="12.6" fill="#f5f5f5"/>
<rect x="101.6" y="344.4" width="10.8" height="7" rx="0.7" fill="url(#bg1)" opacity="0.03"/>
<rect x="114.1" y="341.6" width="11.4" height="12.6" fill="#f5f5f5"/>
<rect x="114.4" y="344.51" width="10.8" height="6.78" rx="0.7" fill="url(#bg1)" opacity="0.33"/>
<rect x="126.5" y="341.6" width="11.4" height="12.6" fill="#f5f5f5"/>
<rect x="126.8" y="344.4" width="10.8" height="7" rx="0.7" fill="url(#bg1)" opacity="0.03"/>
<rect x="138.9" y="341.6" width="11.4" height="12.6" fill="#f5f5f5"/>
<rect x="139.2" y="344.71" width="10.8" height="6.78" rx="0.7" fill="url(#bg1)" opacity="0.56"/>
</g>
<rect x="100.5" y="340.4" width="50.4" height="15" fill="none" stroke="#1a1a1a" stroke-width="0.75" rx="0.4"/>
<text x="156.1" y="349.1" font-size="7" fill="#111" stroke="#111" stroke-width="0.14">γH2AX (S139)</text>
<clipPath id="bx70"><rect x="47" y="357.7" width="51.5" height="14.6"/></clipPath>
<rect x="47" y="357.7" width="51.5" height="14.6" fill="url(#boxbg)"/>
<g clip-path="url(#bx70)">
<rect x="48.6" y="358.9" width="11.4" height="12.2" fill="#f5f5f5"/>
<rect x="48.9" y="361.5" width="10.8" height="7" rx="0.7" fill="url(#bg1)" opacity="0.02"/>
<rect x="61.5" y="358.9" width="11.4" height="12.2" fill="#f5f5f5"/>
<rect x="61.8" y="361.5" width="10.8" height="7" rx="0.7" fill="url(#bg1)" opacity="0.02"/>
<rect x="74.1" y="358.9" width="11.4" height="12.2" fill="#f5f5f5"/>
<rect x="74.4" y="363.44" width="10.8" height="6.12" rx="0.7" fill="url(#bg1)" opacity="0.19"/>
<rect x="86.5" y="358.9" width="11.4" height="12.2" fill="#f5f5f5"/>
<rect x="86.8" y="363.11" width="10.8" height="6.78" rx="0.7" fill="url(#bg1)" opacity="0.58"/>
<rect x="86.8" y="358.45" width="10.8" height="5.9" rx="0.7" fill="url(#bg1)" opacity="0.12"/>
</g>
<rect x="47" y="357.7" width="51.5" height="14.6" fill="none" stroke="#1a1a1a" stroke-width="0.75" rx="0.4"/>
<clipPath id="bx74"><rect x="100.5" y="357.7" width="50.4" height="14.6"/></clipPath>
<rect x="100.5" y="357.7" width="50.4" height="14.6" fill="url(#boxbg)"/>
<g clip-path="url(#bx74)">
<rect x="101.3" y="358.9" width="11.4" height="12.2" fill="#f5f5f5"/>
<rect x="101.6" y="361.5" width="10.8" height="7" rx="0.7" fill="url(#bg1)" opacity="0.03"/>
<rect x="114.1" y="358.9" width="11.4" height="12.2" fill="#f5f5f5"/>
<rect x="114.4" y="359.23" width="10.8" height="6.34" rx="0.7" fill="url(#bg1)" opacity="0.28"/>
<rect x="114.4" y="364.54" width="10.8" height="6.12" rx="0.7" fill="url(#bg1)" opacity="0.13"/>
<rect x="126.5" y="358.9" width="11.4" height="12.2" fill="#f5f5f5"/>
<rect x="126.8" y="361.5" width="10.8" height="7" rx="0.7" fill="url(#bg1)" opacity="0.03"/>
<rect x="138.9" y="358.9" width="11.4" height="12.2" fill="#f5f5f5"/>
<rect x="139.2" y="358.72" width="10.8" height="6.56" rx="0.7" fill="url(#bg1)" opacity="0.63"/>
<rect x="139.2" y="364.41" width="10.8" height="6.78" rx="0.7" fill="url(#bg1)" opacity="0.65"/>
</g>
<rect x="100.5" y="357.7" width="50.4" height="14.6" fill="none" stroke="#1a1a1a" stroke-width="0.75" rx="0.4"/>
<text x="156.1" y="366" font-size="7" fill="#111" stroke="#111" stroke-width="0.14">c-Casp-3 (D175)</text>
<clipPath id="bx80"><rect x="47" y="374.6" width="51.5" height="13.8"/></clipPath>
<rect x="47" y="374.6" width="51.5" height="13.8" fill="url(#boxbg)"/>
<g clip-path="url(#bx80)">
<rect x="48.6" y="375.8" width="11.4" height="11.4" fill="#f5f5f5"/>
<rect x="48.9" y="376.9" width="10.8" height="9.2" rx="0.7" fill="url(#bg1)" opacity="0.05"/>
<rect x="61.5" y="375.8" width="11.4" height="11.4" fill="#f5f5f5"/>
<rect x="61.8" y="376.9" width="10.8" height="9.2" rx="0.7" fill="url(#bg1)" opacity="0.09"/>
<rect x="74.1" y="375.8" width="11.4" height="11.4" fill="#f5f5f5"/>
<rect x="74.4" y="377.23" width="10.8" height="8.54" rx="0.7" fill="url(#bg1)" opacity="0.3"/>
<rect x="86.5" y="375.8" width="11.4" height="11.4" fill="#f5f5f5"/>
<rect x="86.8" y="376.79" width="10.8" height="9.42" rx="0.7" fill="url(#bg1)" opacity="0.61"/>
</g>
<rect x="47" y="374.6" width="51.5" height="13.8" fill="none" stroke="#1a1a1a" stroke-width="0.75" rx="0.4"/>
<clipPath id="bx84"><rect x="100.5" y="374.6" width="50.4" height="13.8"/></clipPath>
<rect x="100.5" y="374.6" width="50.4" height="13.8" fill="url(#boxbg)"/>
<g clip-path="url(#bx84)">
<rect x="101.3" y="375.8" width="11.4" height="11.4" fill="#f5f5f5"/>
<rect x="101.6" y="379.15" width="10.8" height="5.9" rx="0.7" fill="url(#bg1)" opacity="0.07"/>
<rect x="114.1" y="375.8" width="11.4" height="11.4" fill="#f5f5f5"/>
<rect x="114.4" y="378.93" width="10.8" height="6.34" rx="0.7" fill="url(#bg1)" opacity="0.19"/>
<rect x="126.5" y="375.8" width="11.4" height="11.4" fill="#f5f5f5"/>
<rect x="126.8" y="379.15" width="10.8" height="5.9" rx="0.7" fill="url(#bg1)" opacity="0.09"/>
<rect x="138.9" y="375.8" width="11.4" height="11.4" fill="#f5f5f5"/>
<rect x="139.2" y="378.27" width="10.8" height="7.66" rx="0.7" fill="url(#bg1)" opacity="0.69"/>
</g>
<rect x="100.5" y="374.6" width="50.4" height="13.8" fill="none" stroke="#1a1a1a" stroke-width="0.75" rx="0.4"/>
<text x="156.1" y="382.9" font-size="7" fill="#111" stroke="#111" stroke-width="0.14">c-Casp-7 (D198)</text>
<clipPath id="bx90"><rect x="47" y="390.8" width="51.5" height="13.6"/></clipPath>
<rect x="47" y="390.8" width="51.5" height="13.6" fill="url(#boxbg)"/>
<g clip-path="url(#bx90)">
<rect x="48.6" y="392" width="11.4" height="11.2" fill="#f5f5f5"/>
<rect x="48.9" y="393.55" width="10.8" height="8.1" rx="0.7" fill="url(#bg1)" opacity="0.63"/>
<rect x="61.5" y="392" width="11.4" height="11.2" fill="#f5f5f5"/>
<rect x="61.8" y="393.97" width="10.8" height="7.66" rx="0.7" fill="url(#bg1)" opacity="0.61"/>
<rect x="74.1" y="392" width="11.4" height="11.2" fill="#f5f5f5"/>
<rect x="74.4" y="393.97" width="10.8" height="7.66" rx="0.7" fill="url(#bg1)" opacity="0.61"/>
<rect x="86.5" y="392" width="11.4" height="11.2" fill="#f5f5f5"/>
<rect x="86.8" y="393.55" width="10.8" height="8.1" rx="0.7" fill="url(#bg1)" opacity="0.63"/>
</g>
<rect x="47" y="390.8" width="51.5" height="13.6" fill="none" stroke="#1a1a1a" stroke-width="0.75" rx="0.4"/>
<clipPath id="bx94"><rect x="100.5" y="390.8" width="50.4" height="13.6"/></clipPath>
<rect x="100.5" y="390.8" width="50.4" height="13.6" fill="url(#boxbg)"/>
<g clip-path="url(#bx94)">
<rect x="101.3" y="392" width="11.4" height="11.2" fill="#f5f5f5"/>
<rect x="101.6" y="393.15" width="10.8" height="8.1" rx="0.7" fill="url(#bg1)" opacity="0.67"/>
<rect x="114.1" y="392" width="11.4" height="11.2" fill="#f5f5f5"/>
<rect x="114.4" y="393.57" width="10.8" height="7.66" rx="0.7" fill="url(#bg1)" opacity="0.63"/>
<rect x="126.5" y="392" width="11.4" height="11.2" fill="#f5f5f5"/>
<rect x="126.8" y="394.19" width="10.8" height="7.22" rx="0.7" fill="url(#bg1)" opacity="0.58"/>
<rect x="138.9" y="392" width="11.4" height="11.2" fill="#f5f5f5"/>
<rect x="139.2" y="393.66" width="10.8" height="7.88" rx="0.7" fill="url(#bg1)" opacity="0.63"/>
</g>
<rect x="100.5" y="390.8" width="50.4" height="13.6" fill="none" stroke="#1a1a1a" stroke-width="0.75" rx="0.4"/>
<text x="156.1" y="398.5" font-size="7" fill="#111" stroke="#111" stroke-width="0.14">Vinculin</text>
<path d="M44 242.6V337.6" stroke="#8a44b4" stroke-width="1.3"/>
<path d="M44 341V354.8" stroke="#ea0a26" stroke-width="1.3"/>
<path d="M44 357.8V388" stroke="#12964a" stroke-width="1.3"/>
<text transform="translate(41.5 290.4) rotate(-90)" font-size="7.1" font-weight="bold" fill="#8636ad" stroke="#8636ad" stroke-width="0.15" text-anchor="middle">Target engagement</text>
<text transform="translate(41.4 348) rotate(-90)" font-size="6.9" font-weight="bold" fill="#e8141e" stroke="#e8141e" stroke-width="0.15" text-anchor="middle">DDR</text>
<text transform="translate(41.3 374.3) rotate(-90)" font-size="6.9" font-weight="bold" fill="#12964a" stroke="#12964a" stroke-width="0.15" text-anchor="middle">Apoptosis</text>
</g>
<g id="panelC">
<text x="227.1" y="207.3" font-size="10.2" font-weight="bold" fill="#000" stroke="#000" stroke-width="0.14">C</text>
<text x="386.7" y="195" font-size="7" font-weight="bold" fill="#000" text-anchor="middle" stroke="#000" stroke-width="0.14">NCI-H2122</text>
<rect x="325.9" y="198.8" width="76.75" height="7.8" fill="#0a14f2"/>
<rect x="402.65" y="198.8" width="21" height="7.8" fill="#12ae12"/>
<rect x="423.65" y="198.8" width="6.75" height="7.8" fill="#14f514"/>
<rect x="430.4" y="198.8" width="18.25" height="7.8" fill="#ff8000"/>
<path d="M322 202.7H326" stroke="#000" stroke-width="0.8"/>
<text x="320.8" y="204.8" font-size="6.1" fill="#111" text-anchor="end" stroke="#111" stroke-width="0.14">Azenosertib + adagrasib</text>
<rect x="325.9" y="209.9" width="71.88" height="7.8" fill="#0a14f2"/>
<rect x="397.77" y="209.9" width="15" height="7.8" fill="#12ae12"/>
<rect x="412.77" y="209.9" width="9.75" height="7.8" fill="#14f514"/>
<rect x="422.52" y="209.9" width="26.13" height="7.8" fill="#ff8000"/>
<path d="M322 213.8H326" stroke="#000" stroke-width="0.8"/>
<text x="320.8" y="215.9" font-size="6.1" fill="#111" text-anchor="end" stroke="#111" stroke-width="0.14">Azenosertib + sotorasib</text>
<rect x="325.9" y="220.9" width="80" height="7.8" fill="#0a14f2"/>
<rect x="405.9" y="220.9" width="31.88" height="7.8" fill="#12ae12"/>
<rect x="437.77" y="220.9" width="2.62" height="7.8" fill="#14f514"/>
<rect x="440.4" y="220.9" width="8.25" height="7.8" fill="#ff8000"/>
<path d="M322 224.8H326" stroke="#000" stroke-width="0.8"/>
<text x="320.8" y="226.9" font-size="6.1" fill="#111" text-anchor="end" stroke="#111" stroke-width="0.14">Adagrasib</text>
<rect x="325.9" y="231.8" width="87.88" height="7.8" fill="#0a14f2"/>
<rect x="413.77" y="231.8" width="22.13" height="7.8" fill="#12ae12"/>
<rect x="435.9" y="231.8" width="4.25" height="7.8" fill="#14f514"/>
<rect x="440.15" y="231.8" width="8.5" height="7.8" fill="#ff8000"/>
<path d="M322 235.7H326" stroke="#000" stroke-width="0.8"/>
<text x="320.8" y="237.8" font-size="6.1" fill="#111" text-anchor="end" stroke="#111" stroke-width="0.14">Sotorasib</text>
<rect x="325.9" y="242.7" width="70" height="7.8" fill="#0a14f2"/>
<rect x="395.9" y="242.7" width="32.75" height="7.8" fill="#12ae12"/>
<rect x="428.65" y="242.7" width="5.37" height="7.8" fill="#14f514"/>
<rect x="434.02" y="242.7" width="14.12" height="7.8" fill="#ff8000"/>
<path d="M322 246.6H326" stroke="#000" stroke-width="0.8"/>
<text x="320.8" y="248.7" font-size="6.1" fill="#111" text-anchor="end" stroke="#111" stroke-width="0.14">Azenosertib</text>
<rect x="325.9" y="253.7" width="70.62" height="7.8" fill="#0a14f2"/>
<rect x="396.52" y="253.7" width="43.38" height="7.8" fill="#12ae12"/>
<rect x="439.9" y="253.7" width="2.25" height="7.8" fill="#14f514"/>
<rect x="442.15" y="253.7" width="6.5" height="7.8" fill="#ff8000"/>
<path d="M322 257.6H326" stroke="#000" stroke-width="0.8"/>
<text x="320.8" y="259.7" font-size="6.1" fill="#111" text-anchor="end" stroke="#111" stroke-width="0.14">DMSO</text>
<path d="M325.9 194.6V264.4" stroke="#000" stroke-width="1"/>
<path d="M325.4 264H452" stroke="#000" stroke-width="1"/>
<path d="M325.9 264V267.6" stroke="#000" stroke-width="0.8"/>
<text x="325.9" y="274" font-size="5.9" font-weight="bold" fill="#111" text-anchor="middle" stroke="#111" stroke-width="0.14">0</text>
<path d="M350.9 264V267.6" stroke="#000" stroke-width="0.8"/>
<text x="350.9" y="274" font-size="5.9" font-weight="bold" fill="#111" text-anchor="middle" stroke="#111" stroke-width="0.14">20</text>
<path d="M375.9 264V267.6" stroke="#000" stroke-width="0.8"/>
<text x="375.9" y="274" font-size="5.9" font-weight="bold" fill="#111" text-anchor="middle" stroke="#111" stroke-width="0.14">40</text>
<path d="M400.9 264V267.6" stroke="#000" stroke-width="0.8"/>
<text x="400.9" y="274" font-size="5.9" font-weight="bold" fill="#111" text-anchor="middle" stroke="#111" stroke-width="0.14">60</text>
<path d="M425.9 264V267.6" stroke="#000" stroke-width="0.8"/>
<text x="425.9" y="274" font-size="5.9" font-weight="bold" fill="#111" text-anchor="middle" stroke="#111" stroke-width="0.14">80</text>
<path d="M450.9 264V267.6" stroke="#000" stroke-width="0.8"/>
<text x="450.9" y="274" font-size="5.9" font-weight="bold" fill="#111" text-anchor="middle" stroke="#111" stroke-width="0.14">100</text>
<text x="387.8" y="283.2" font-size="6" font-weight="bold" fill="#111" text-anchor="middle" stroke="#111" stroke-width="0.14">% of cells</text>
<rect x="461.2" y="199.1" width="8" height="3.8" fill="#9a9a9a" stroke="#666" stroke-width="0.4"/>
<text x="473.8" y="203.2" font-size="6.2" fill="#222" stroke="#222" stroke-width="0.14">Sub G<tspan font-size="3.6" dy="1.2">1</tspan></text>
<rect x="461.2" y="208.9" width="8" height="3.8" fill="#0a14f2"/>
<text x="473.8" y="213" font-size="6.2" fill="#222" stroke="#222" stroke-width="0.14">G<tspan font-size="3.6" dy="1.2">1</tspan></text>
<rect x="461.2" y="218.4" width="8" height="3.8" fill="#12a212"/>
<text x="473.8" y="222.5" font-size="6.2" fill="#222" stroke="#222" stroke-width="0.14">EdU<tspan font-size="3.6" dy="-2.2">+</tspan><tspan dy="2.2"> S</tspan></text>
<rect x="461.2" y="228.1" width="8" height="3.8" fill="#14ee14"/>
<text x="473.8" y="232.2" font-size="6.2" fill="#222" stroke="#222" stroke-width="0.14">EdU<tspan font-size="3.6" dy="-2.2">−</tspan><tspan dy="2.2"> S</tspan></text>
<rect x="461.2" y="237.6" width="8" height="3.8" fill="#ff8000" stroke="#666" stroke-width="0.4"/>
<text x="473.8" y="241.7" font-size="6.2" fill="#222" stroke="#222" stroke-width="0.14">G2–M</text>
</g>
<g id="panelD">
<text x="226.6" y="292.3" font-size="10.2" font-weight="bold" fill="#000" stroke="#000" stroke-width="0.14">D</text>
<rect x="241.3" y="287.4" width="63.9" height="18.5" fill="#0d469f"/>
<rect x="305.2" y="287.4" width="95.7" height="8.9" fill="#0d469f"/>
<rect x="403.7" y="287.4" width="97.9" height="8.9" fill="#0d469f"/>
<path d="M305.2 296.3H400.9M403.7 296.3H501.6M305.2 287.4V305.9" stroke="#0a2458" stroke-width="0.7"/>
<path d="M271.4 287.4V305.9" stroke="#0a2458" stroke-width="0.8"/>
<text x="256.4" y="298.6" font-size="5.8" font-weight="bold" fill="#fff" text-anchor="middle" stroke="#fff" stroke-width="0.14">Cell lines</text>
<text x="288.6" y="298.6" font-size="5.8" font-weight="bold" fill="#fff" text-anchor="middle" stroke="#fff" stroke-width="0.14">Compound</text>
<text x="354.5" y="294" font-size="6.8" font-weight="bold" fill="#fff" text-anchor="middle" stroke="#fff" stroke-width="0.14">γH2AX</text>
<text x="456.9" y="294" font-size="6.8" font-weight="bold" fill="#fff" text-anchor="middle" stroke="#fff" stroke-width="0.14">c-Casp-3/7</text>
<rect x="305.2" y="296.6" width="37.6" height="9.3" fill="#fff" stroke="#333" stroke-width="0.75"/>
<text x="324" y="303.5" font-size="6.3" fill="#111" text-anchor="middle" stroke="#111" stroke-width="0.14">Azenosertib</text>
<rect x="342.8" y="296.6" width="29.5" height="9.3" fill="#fff" stroke="#333" stroke-width="0.75"/>
<text x="357.55" y="303.5" font-size="6.3" fill="#111" text-anchor="middle" stroke="#111" stroke-width="0.14">KRASi</text>
<rect x="372.3" y="296.6" width="28.3" height="9.3" fill="#fff" stroke="#333" stroke-width="0.75"/>
<text x="386.45" y="303.5" font-size="6.3" fill="#111" text-anchor="middle" stroke="#111" stroke-width="0.14">Combo</text>
<rect x="404" y="296.6" width="38.6" height="9.3" fill="#fff" stroke="#333" stroke-width="0.75"/>
<text x="423.3" y="303.5" font-size="6.3" fill="#111" text-anchor="middle" stroke="#111" stroke-width="0.14">Azenosertib</text>
<rect x="442.6" y="296.6" width="29.6" height="9.3" fill="#fff" stroke="#333" stroke-width="0.75"/>
<text x="457.4" y="303.5" font-size="6.3" fill="#111" text-anchor="middle" stroke="#111" stroke-width="0.14">KRASi</text>
<rect x="472.2" y="296.6" width="29.1" height="9.3" fill="#fff" stroke="#333" stroke-width="0.75"/>
<text x="486.75" y="303.5" font-size="6.3" fill="#111" text-anchor="middle" stroke="#111" stroke-width="0.14">Combo</text>
<rect x="271.4" y="305.9" width="33.8" height="8.21" fill="#fff" stroke="#2e2e2e" stroke-width="0.8"/>
<text x="288.6" y="312.4" font-size="6.2" fill="#000" text-anchor="middle" stroke="#000" stroke-width="0.14">Sotorasib</text>
<rect x="305.2" y="305.9" width="37.6" height="8.21" fill="#8dca7d" stroke="#2e2e2e" stroke-width="0.8"/>
<text x="324" y="313" font-size="6.5" fill="#2a2a2a" text-anchor="middle" stroke="#2a2a2a" stroke-width="0.14">1.2</text>
<rect x="342.8" y="305.9" width="29.5" height="8.21" fill="#cbdc81" stroke="#2e2e2e" stroke-width="0.8"/>
<text x="357.55" y="313" font-size="6.5" fill="#2a2a2a" text-anchor="middle" stroke="#2a2a2a" stroke-width="0.14">1.8</text>
<rect x="372.3" y="305.9" width="28.3" height="8.21" fill="#c1d980" stroke="#2e2e2e" stroke-width="0.8"/>
<text x="386.45" y="313" font-size="6.5" fill="#2a2a2a" text-anchor="middle" stroke="#2a2a2a" stroke-width="0.14">1.7</text>
<rect x="404" y="305.9" width="38.6" height="8.21" fill="#63be7b" stroke="#2e2e2e" stroke-width="0.8"/>
<text x="423.3" y="313" font-size="6.5" fill="#2a2a2a" text-anchor="middle" stroke="#2a2a2a" stroke-width="0.14">0.5</text>
<rect x="442.6" y="305.9" width="29.6" height="8.21" fill="#75c37c" stroke="#2e2e2e" stroke-width="0.8"/>
<text x="457.4" y="313" font-size="6.5" fill="#2a2a2a" text-anchor="middle" stroke="#2a2a2a" stroke-width="0.14">0.8</text>
<rect x="472.2" y="305.9" width="29.1" height="8.21" fill="#88c97d" stroke="#2e2e2e" stroke-width="0.8"/>
<text x="486.75" y="313" font-size="6.5" fill="#2a2a2a" text-anchor="middle" stroke="#2a2a2a" stroke-width="0.14">1.1</text>
<rect x="271.4" y="314.11" width="33.8" height="8.21" fill="#fff" stroke="#2e2e2e" stroke-width="0.8"/>
<text x="288.6" y="320.61" font-size="6.2" fill="#000" text-anchor="middle" stroke="#000" stroke-width="0.14">Adagrasib</text>
<rect x="305.2" y="314.11" width="37.6" height="8.21" fill="#82c77d" stroke="#2e2e2e" stroke-width="0.8"/>
<text x="324" y="321.21" font-size="6.5" fill="#2a2a2a" text-anchor="middle" stroke="#2a2a2a" stroke-width="0.14">1.1</text>
<rect x="342.8" y="314.11" width="29.5" height="8.21" fill="#63be7b" stroke="#2e2e2e" stroke-width="0.8"/>
<text x="357.55" y="321.21" font-size="6.5" fill="#2a2a2a" text-anchor="middle" stroke="#2a2a2a" stroke-width="0.14">0.8</text>
<rect x="372.3" y="314.11" width="28.3" height="8.21" fill="#e0e282" stroke="#2e2e2e" stroke-width="0.8"/>
<text x="386.45" y="321.21" font-size="6.5" fill="#2a2a2a" text-anchor="middle" stroke="#2a2a2a" stroke-width="0.14">2</text>
<rect x="404" y="314.11" width="38.6" height="8.21" fill="#a6d17f" stroke="#2e2e2e" stroke-width="0.8"/>
<text x="423.3" y="321.21" font-size="6.5" fill="#2a2a2a" text-anchor="middle" stroke="#2a2a2a" stroke-width="0.14">1.6</text>
<rect x="442.6" y="314.11" width="29.6" height="8.21" fill="#dde182" stroke="#2e2e2e" stroke-width="0.8"/>
<text x="457.4" y="321.21" font-size="6.5" fill="#2a2a2a" text-anchor="middle" stroke="#2a2a2a" stroke-width="0.14">2.5</text>
<rect x="472.2" y="314.11" width="29.1" height="8.21" fill="#fedd81" stroke="#2e2e2e" stroke-width="0.8"/>
<text x="486.75" y="321.21" font-size="6.5" fill="#2a2a2a" text-anchor="middle" stroke="#2a2a2a" stroke-width="0.14">4.1</text>
<rect x="271.4" y="322.32" width="33.8" height="8.21" fill="#fff" stroke="#2e2e2e" stroke-width="0.8"/>
<text x="288.6" y="328.82" font-size="6.2" fill="#000" text-anchor="middle" stroke="#000" stroke-width="0.14">Sotorasib</text>
<rect x="305.2" y="322.32" width="37.6" height="8.21" fill="#acd37f" stroke="#2e2e2e" stroke-width="0.8"/>
<text x="324" y="329.42" font-size="6.5" fill="#2a2a2a" text-anchor="middle" stroke="#2a2a2a" stroke-width="0.14">1.5</text>
<rect x="342.8" y="322.32" width="29.5" height="8.21" fill="#eae583" stroke="#2e2e2e" stroke-width="0.8"/>
<text x="357.55" y="329.42" font-size="6.5" fill="#2a2a2a" text-anchor="middle" stroke="#2a2a2a" stroke-width="0.14">2.1</text>
<rect x="372.3" y="322.32" width="28.3" height="8.21" fill="#fcb179" stroke="#2e2e2e" stroke-width="0.8"/>
<text x="386.45" y="329.42" font-size="6.5" fill="#2a2a2a" text-anchor="middle" stroke="#2a2a2a" stroke-width="0.14">6.2</text>
<rect x="404" y="322.32" width="38.6" height="8.21" fill="#8eca7d" stroke="#2e2e2e" stroke-width="0.8"/>
<text x="423.3" y="329.42" font-size="6.5" fill="#2a2a2a" text-anchor="middle" stroke="#2a2a2a" stroke-width="0.14">1.2</text>
<rect x="442.6" y="322.32" width="29.6" height="8.21" fill="#ffe683" stroke="#2e2e2e" stroke-width="0.8"/>
<text x="457.4" y="329.42" font-size="6.5" fill="#2a2a2a" text-anchor="middle" stroke="#2a2a2a" stroke-width="0.14">3.4</text>
<rect x="472.2" y="322.32" width="29.1" height="8.21" fill="#fa8a71" stroke="#2e2e2e" stroke-width="0.8"/>
<text x="486.75" y="329.42" font-size="6.5" fill="#2a2a2a" text-anchor="middle" stroke="#2a2a2a" stroke-width="0.14">10.1</text>
<rect x="271.4" y="330.53" width="33.8" height="8.21" fill="#fff" stroke="#2e2e2e" stroke-width="0.8"/>
<text x="288.6" y="337.03" font-size="6.2" fill="#000" text-anchor="middle" stroke="#000" stroke-width="0.14">Adagrasib</text>
<rect x="305.2" y="330.53" width="37.6" height="8.21" fill="#fed880" stroke="#2e2e2e" stroke-width="0.8"/>
<text x="324" y="337.63" font-size="6.5" fill="#2a2a2a" text-anchor="middle" stroke="#2a2a2a" stroke-width="0.14">3.6</text>
<rect x="342.8" y="330.53" width="29.5" height="8.21" fill="#63be7b" stroke="#2e2e2e" stroke-width="0.8"/>
<text x="357.55" y="337.63" font-size="6.5" fill="#2a2a2a" text-anchor="middle" stroke="#2a2a2a" stroke-width="0.14">0.8</text>
<rect x="372.3" y="330.53" width="28.3" height="8.21" fill="#fdc37c" stroke="#2e2e2e" stroke-width="0.8"/>
<text x="386.45" y="337.63" font-size="6.5" fill="#2a2a2a" text-anchor="middle" stroke="#2a2a2a" stroke-width="0.14">5</text>
<rect x="404" y="330.53" width="38.6" height="8.21" fill="#ffe583" stroke="#2e2e2e" stroke-width="0.8"/>
<text x="423.3" y="337.63" font-size="6.5" fill="#2a2a2a" text-anchor="middle" stroke="#2a2a2a" stroke-width="0.14">3.5</text>
<rect x="442.6" y="330.53" width="29.6" height="8.21" fill="#82c77d" stroke="#2e2e2e" stroke-width="0.8"/>
<text x="457.4" y="337.63" font-size="6.5" fill="#2a2a2a" text-anchor="middle" stroke="#2a2a2a" stroke-width="0.14">1</text>
<rect x="472.2" y="330.53" width="29.1" height="8.21" fill="#fb9c75" stroke="#2e2e2e" stroke-width="0.8"/>
<text x="486.75" y="337.63" font-size="6.5" fill="#2a2a2a" text-anchor="middle" stroke="#2a2a2a" stroke-width="0.14">8.8</text>
<rect x="271.4" y="338.74" width="33.8" height="8.21" fill="#fff" stroke="#2e2e2e" stroke-width="0.8"/>
<text x="288.6" y="345.24" font-size="6.2" fill="#000" text-anchor="middle" stroke="#000" stroke-width="0.14">Sotorasib</text>
<rect x="305.2" y="338.74" width="37.6" height="8.21" fill="#ffea84" stroke="#2e2e2e" stroke-width="0.8"/>
<text x="324" y="345.84" font-size="6.5" fill="#2a2a2a" text-anchor="middle" stroke="#2a2a2a" stroke-width="0.14">2.4</text>
<rect x="342.8" y="338.74" width="29.5" height="8.21" fill="#78c47c" stroke="#2e2e2e" stroke-width="0.8"/>
<text x="357.55" y="345.84" font-size="6.5" fill="#2a2a2a" text-anchor="middle" stroke="#2a2a2a" stroke-width="0.14">1</text>
<rect x="372.3" y="338.74" width="28.3" height="8.21" fill="#fdbe7b" stroke="#2e2e2e" stroke-width="0.8"/>
<text x="386.45" y="345.84" font-size="6.5" fill="#2a2a2a" text-anchor="middle" stroke="#2a2a2a" stroke-width="0.14">5.3</text>
<rect x="404" y="338.74" width="38.6" height="8.21" fill="#ffea84" stroke="#2e2e2e" stroke-width="0.8"/>
<text x="423.3" y="345.84" font-size="6.5" fill="#2a2a2a" text-anchor="middle" stroke="#2a2a2a" stroke-width="0.14">3.1</text>
<rect x="442.6" y="338.74" width="29.6" height="8.21" fill="#fba677" stroke="#2e2e2e" stroke-width="0.8"/>
<text x="457.4" y="345.84" font-size="6.5" fill="#2a2a2a" text-anchor="middle" stroke="#2a2a2a" stroke-width="0.14">8.1</text>
<rect x="472.2" y="338.74" width="29.1" height="8.21" fill="#f98570" stroke="#2e2e2e" stroke-width="0.8"/>
<text x="486.75" y="345.84" font-size="6.5" fill="#2a2a2a" text-anchor="middle" stroke="#2a2a2a" stroke-width="0.14">10.5</text>
<rect x="271.4" y="346.95" width="33.8" height="8.21" fill="#fff" stroke="#2e2e2e" stroke-width="0.8"/>
<text x="288.6" y="353.45" font-size="6.2" fill="#000" text-anchor="middle" stroke="#000" stroke-width="0.14">Adagrasib</text>
<rect x="305.2" y="346.95" width="37.6" height="8.21" fill="#fdcd7e" stroke="#2e2e2e" stroke-width="0.8"/>
<text x="324" y="354.05" font-size="6.5" fill="#2a2a2a" text-anchor="middle" stroke="#2a2a2a" stroke-width="0.14">4.3</text>
<rect x="342.8" y="346.95" width="29.5" height="8.21" fill="#8dca7d" stroke="#2e2e2e" stroke-width="0.8"/>
<text x="357.55" y="354.05" font-size="6.5" fill="#2a2a2a" text-anchor="middle" stroke="#2a2a2a" stroke-width="0.14">1.2</text>
<rect x="372.3" y="346.95" width="28.3" height="8.21" fill="#f98170" stroke="#2e2e2e" stroke-width="0.8"/>
<text x="386.45" y="354.05" font-size="6.5" fill="#2a2a2a" text-anchor="middle" stroke="#2a2a2a" stroke-width="0.14">9.4</text>
<rect x="404" y="346.95" width="38.6" height="8.21" fill="#a6d17f" stroke="#2e2e2e" stroke-width="0.8"/>
<text x="423.3" y="354.05" font-size="6.5" fill="#2a2a2a" text-anchor="middle" stroke="#2a2a2a" stroke-width="0.14">1.6</text>
<rect x="442.6" y="346.95" width="29.6" height="8.21" fill="#75c37c" stroke="#2e2e2e" stroke-width="0.8"/>
<text x="457.4" y="354.05" font-size="6.5" fill="#2a2a2a" text-anchor="middle" stroke="#2a2a2a" stroke-width="0.14">0.8</text>
<rect x="472.2" y="346.95" width="29.1" height="8.21" fill="#f8696b" stroke="#2e2e2e" stroke-width="0.8"/>
<text x="486.75" y="354.05" font-size="6.5" fill="#2a2a2a" text-anchor="middle" stroke="#2a2a2a" stroke-width="0.14">12.5</text>
<rect x="271.4" y="355.16" width="33.8" height="8.21" fill="#fff" stroke="#2e2e2e" stroke-width="0.8"/>
<text x="288.6" y="361.66" font-size="6.2" fill="#000" text-anchor="middle" stroke="#000" stroke-width="0.14">Sotorasib</text>
<rect x="305.2" y="355.16" width="37.6" height="8.21" fill="#ffeb84" stroke="#2e2e2e" stroke-width="0.8"/>
<text x="324" y="362.26" font-size="6.5" fill="#2a2a2a" text-anchor="middle" stroke="#2a2a2a" stroke-width="0.14">2.3</text>
<rect x="342.8" y="355.16" width="29.5" height="8.21" fill="#97cd7e" stroke="#2e2e2e" stroke-width="0.8"/>
<text x="357.55" y="362.26" font-size="6.5" fill="#2a2a2a" text-anchor="middle" stroke="#2a2a2a" stroke-width="0.14">1.3</text>
<rect x="372.3" y="355.16" width="28.3" height="8.21" fill="#fba076" stroke="#2e2e2e" stroke-width="0.8"/>
<text x="386.45" y="362.26" font-size="6.5" fill="#2a2a2a" text-anchor="middle" stroke="#2a2a2a" stroke-width="0.14">7.3</text>
<rect x="404" y="355.16" width="38.6" height="8.21" fill="#c5da81" stroke="#2e2e2e" stroke-width="0.8"/>
<text x="423.3" y="362.26" font-size="6.5" fill="#2a2a2a" text-anchor="middle" stroke="#2a2a2a" stroke-width="0.14">2.1</text>
<rect x="442.6" y="355.16" width="29.6" height="8.21" fill="#a0d07f" stroke="#2e2e2e" stroke-width="0.8"/>
<text x="457.4" y="362.26" font-size="6.5" fill="#2a2a2a" text-anchor="middle" stroke="#2a2a2a" stroke-width="0.14">1.5</text>
<rect x="472.2" y="355.16" width="29.1" height="8.21" fill="#fba076" stroke="#2e2e2e" stroke-width="0.8"/>
<text x="486.75" y="362.26" font-size="6.5" fill="#2a2a2a" text-anchor="middle" stroke="#2a2a2a" stroke-width="0.14">8.5</text>
<rect x="271.4" y="363.37" width="33.8" height="8.21" fill="#fff" stroke="#2e2e2e" stroke-width="0.8"/>
<text x="288.6" y="369.87" font-size="6.2" fill="#000" text-anchor="middle" stroke="#000" stroke-width="0.14">Adagrasib</text>
<rect x="305.2" y="363.37" width="37.6" height="8.21" fill="#fedc81" stroke="#2e2e2e" stroke-width="0.8"/>
<text x="324" y="370.47" font-size="6.5" fill="#2a2a2a" text-anchor="middle" stroke="#2a2a2a" stroke-width="0.14">3.3</text>
<rect x="342.8" y="363.37" width="29.5" height="8.21" fill="#78c47c" stroke="#2e2e2e" stroke-width="0.8"/>
<text x="357.55" y="370.47" font-size="6.5" fill="#2a2a2a" text-anchor="middle" stroke="#2a2a2a" stroke-width="0.14">1</text>
<rect x="372.3" y="363.37" width="28.3" height="8.21" fill="#fcab78" stroke="#2e2e2e" stroke-width="0.8"/>
<text x="386.45" y="370.47" font-size="6.5" fill="#2a2a2a" text-anchor="middle" stroke="#2a2a2a" stroke-width="0.14">6.6</text>
<rect x="404" y="363.37" width="38.6" height="8.21" fill="#e3e382" stroke="#2e2e2e" stroke-width="0.8"/>
<text x="423.3" y="370.47" font-size="6.5" fill="#2a2a2a" text-anchor="middle" stroke="#2a2a2a" stroke-width="0.14">2.6</text>
<rect x="442.6" y="363.37" width="29.6" height="8.21" fill="#bfd880" stroke="#2e2e2e" stroke-width="0.8"/>
<text x="457.4" y="370.47" font-size="6.5" fill="#2a2a2a" text-anchor="middle" stroke="#2a2a2a" stroke-width="0.14">2</text>
<rect x="472.2" y="363.37" width="29.1" height="8.21" fill="#fa9473" stroke="#2e2e2e" stroke-width="0.8"/>
<text x="486.75" y="370.47" font-size="6.5" fill="#2a2a2a" text-anchor="middle" stroke="#2a2a2a" stroke-width="0.14">9.4</text>
<rect x="271.4" y="371.58" width="33.8" height="8.21" fill="#fff" stroke="#2e2e2e" stroke-width="0.8"/>
<text x="288.6" y="378.08" font-size="6.2" fill="#000" text-anchor="middle" stroke="#000" stroke-width="0.14">Sotorasib</text>
<rect x="305.2" y="371.58" width="37.6" height="8.21" fill="#fdc07c" stroke="#2e2e2e" stroke-width="0.8"/>
<text x="324" y="378.68" font-size="6.5" fill="#2a2a2a" text-anchor="middle" stroke="#2a2a2a" stroke-width="0.14">5.2</text>
<rect x="342.8" y="371.58" width="29.5" height="8.21" fill="#acd37f" stroke="#2e2e2e" stroke-width="0.8"/>
<text x="357.55" y="378.68" font-size="6.5" fill="#2a2a2a" text-anchor="middle" stroke="#2a2a2a" stroke-width="0.14">1.5</text>
<rect x="372.3" y="371.58" width="28.3" height="8.21" fill="#f8696b" stroke="#2e2e2e" stroke-width="0.8"/>
<text x="386.45" y="378.68" font-size="6.5" fill="#2a2a2a" text-anchor="middle" stroke="#2a2a2a" stroke-width="0.14">11</text>
<rect x="404" y="371.58" width="38.6" height="8.21" fill="#fee182" stroke="#2e2e2e" stroke-width="0.8"/>
<text x="423.3" y="378.68" font-size="6.5" fill="#2a2a2a" text-anchor="middle" stroke="#2a2a2a" stroke-width="0.14">3.8</text>
<rect x="442.6" y="371.58" width="29.6" height="8.21" fill="#fcea84" stroke="#2e2e2e" stroke-width="0.8"/>
<text x="457.4" y="378.68" font-size="6.5" fill="#2a2a2a" text-anchor="middle" stroke="#2a2a2a" stroke-width="0.14">3</text>
<rect x="472.2" y="371.58" width="29.1" height="8.21" fill="#fcb67a" stroke="#2e2e2e" stroke-width="0.8"/>
<text x="486.75" y="378.68" font-size="6.5" fill="#2a2a2a" text-anchor="middle" stroke="#2a2a2a" stroke-width="0.14">6.9</text>
<rect x="271.4" y="379.79" width="33.8" height="8.21" fill="#fff" stroke="#2e2e2e" stroke-width="0.8"/>
<text x="288.6" y="386.29" font-size="6.2" fill="#000" text-anchor="middle" stroke="#000" stroke-width="0.14">Adagrasib</text>
<rect x="305.2" y="379.79" width="37.6" height="8.21" fill="#fedc81" stroke="#2e2e2e" stroke-width="0.8"/>
<text x="324" y="386.89" font-size="6.5" fill="#2a2a2a" text-anchor="middle" stroke="#2a2a2a" stroke-width="0.14">3.3</text>
<rect x="342.8" y="379.79" width="29.5" height="8.21" fill="#8dca7d" stroke="#2e2e2e" stroke-width="0.8"/>
<text x="357.55" y="386.89" font-size="6.5" fill="#2a2a2a" text-anchor="middle" stroke="#2a2a2a" stroke-width="0.14">1.2</text>
<rect x="372.3" y="379.79" width="28.3" height="8.21" fill="#fed680" stroke="#2e2e2e" stroke-width="0.8"/>
<text x="386.45" y="386.89" font-size="6.5" fill="#2a2a2a" text-anchor="middle" stroke="#2a2a2a" stroke-width="0.14">3.7</text>
<rect x="404" y="379.79" width="38.6" height="8.21" fill="#82c77d" stroke="#2e2e2e" stroke-width="0.8"/>
<text x="423.3" y="386.89" font-size="6.5" fill="#2a2a2a" text-anchor="middle" stroke="#2a2a2a" stroke-width="0.14">1</text>
<rect x="442.6" y="379.79" width="29.6" height="8.21" fill="#ffe583" stroke="#2e2e2e" stroke-width="0.8"/>
<text x="457.4" y="386.89" font-size="6.5" fill="#2a2a2a" text-anchor="middle" stroke="#2a2a2a" stroke-width="0.14">3.5</text>
<rect x="472.2" y="379.79" width="29.1" height="8.21" fill="#f9756d" stroke="#2e2e2e" stroke-width="0.8"/>
<text x="486.75" y="386.89" font-size="6.5" fill="#2a2a2a" text-anchor="middle" stroke="#2a2a2a" stroke-width="0.14">11.6</text>
<rect x="271.4" y="388" width="33.8" height="8.21" fill="#fff" stroke="#2e2e2e" stroke-width="0.8"/>
<text x="288.6" y="394.5" font-size="6.2" fill="#000" text-anchor="middle" stroke="#000" stroke-width="0.14">Sotorasib</text>
<rect x="305.2" y="388" width="37.6" height="8.21" fill="#fdc77d" stroke="#2e2e2e" stroke-width="0.8"/>
<text x="324" y="395.1" font-size="6.5" fill="#2a2a2a" text-anchor="middle" stroke="#2a2a2a" stroke-width="0.14">4.7</text>
<rect x="342.8" y="388" width="29.5" height="8.21" fill="#8dca7d" stroke="#2e2e2e" stroke-width="0.8"/>
<text x="357.55" y="395.1" font-size="6.5" fill="#2a2a2a" text-anchor="middle" stroke="#2a2a2a" stroke-width="0.14">1.2</text>
<rect x="372.3" y="388" width="28.3" height="8.21" fill="#f98170" stroke="#2e2e2e" stroke-width="0.8"/>
<text x="386.45" y="395.1" font-size="6.5" fill="#2a2a2a" text-anchor="middle" stroke="#2a2a2a" stroke-width="0.14">9.4</text>
<rect x="404" y="388" width="38.6" height="8.21" fill="#ffffff" stroke="#2e2e2e" stroke-width="0.8"/>
<text x="423.3" y="395.1" font-size="6.5" fill="#2a2a2a" text-anchor="middle" stroke="#2a2a2a" stroke-width="0.14">–</text>
<rect x="442.6" y="388" width="29.6" height="8.21" fill="#ffffff" stroke="#2e2e2e" stroke-width="0.8"/>
<text x="457.4" y="395.1" font-size="6.5" fill="#2a2a2a" text-anchor="middle" stroke="#2a2a2a" stroke-width="0.14">–</text>
<rect x="472.2" y="388" width="29.1" height="8.21" fill="#ffffff" stroke="#2e2e2e" stroke-width="0.8"/>
<text x="486.75" y="395.1" font-size="6.5" fill="#2a2a2a" text-anchor="middle" stroke="#2a2a2a" stroke-width="0.14">–</text>
<rect x="271.4" y="396.21" width="33.8" height="8.21" fill="#fff" stroke="#2e2e2e" stroke-width="0.8"/>
<text x="288.6" y="402.71" font-size="6.2" fill="#000" text-anchor="middle" stroke="#000" stroke-width="0.14">Adagrasib</text>
<rect x="305.2" y="396.21" width="37.6" height="8.21" fill="#fcb77a" stroke="#2e2e2e" stroke-width="0.8"/>
<text x="324" y="403.31" font-size="6.5" fill="#2a2a2a" text-anchor="middle" stroke="#2a2a2a" stroke-width="0.14">5.8</text>
<rect x="342.8" y="396.21" width="29.5" height="8.21" fill="#6dc17c" stroke="#2e2e2e" stroke-width="0.8"/>
<text x="357.55" y="403.31" font-size="6.5" fill="#2a2a2a" text-anchor="middle" stroke="#2a2a2a" stroke-width="0.14">0.9</text>
<rect x="372.3" y="396.21" width="28.3" height="8.21" fill="#fdc97d" stroke="#2e2e2e" stroke-width="0.8"/>
<text x="386.45" y="403.31" font-size="6.5" fill="#2a2a2a" text-anchor="middle" stroke="#2a2a2a" stroke-width="0.14">4.6</text>
<rect x="404" y="396.21" width="38.6" height="8.21" fill="#ffffff" stroke="#2e2e2e" stroke-width="0.8"/>
<text x="423.3" y="403.31" font-size="6.5" fill="#2a2a2a" text-anchor="middle" stroke="#2a2a2a" stroke-width="0.14">–</text>
<rect x="442.6" y="396.21" width="29.6" height="8.21" fill="#ffffff" stroke="#2e2e2e" stroke-width="0.8"/>
<text x="457.4" y="403.31" font-size="6.5" fill="#2a2a2a" text-anchor="middle" stroke="#2a2a2a" stroke-width="0.14">–</text>
<rect x="472.2" y="396.21" width="29.1" height="8.21" fill="#ffffff" stroke="#2e2e2e" stroke-width="0.8"/>
<text x="486.75" y="403.31" font-size="6.5" fill="#2a2a2a" text-anchor="middle" stroke="#2a2a2a" stroke-width="0.14">–</text>
<rect x="241.3" y="305.9" width="30.1" height="16.42" fill="#fff" stroke="#2e2e2e" stroke-width="0.9"/>
<text x="242.7" y="316.01" font-size="5.45" fill="#000" stroke="#000" stroke-width="0.14">NCI-H358</text>
<rect x="241.3" y="322.32" width="30.1" height="16.42" fill="#fff" stroke="#2e2e2e" stroke-width="0.9"/>
<text x="242.7" y="332.43" font-size="5.45" fill="#000" stroke="#000" stroke-width="0.14">NCI-H2122</text>
<rect x="241.3" y="338.74" width="30.1" height="16.42" fill="#fff" stroke="#2e2e2e" stroke-width="0.9"/>
<text x="242.7" y="348.85" font-size="5.45" fill="#000" stroke="#000" stroke-width="0.14">NCI-H23</text>
<rect x="241.3" y="355.16" width="30.1" height="16.42" fill="#fff" stroke="#2e2e2e" stroke-width="0.9"/>
<text x="242.7" y="365.27" font-size="5.45" fill="#000" stroke="#000" stroke-width="0.14">NCI-H1792</text>
<rect x="241.3" y="371.58" width="30.1" height="16.42" fill="#fff" stroke="#2e2e2e" stroke-width="0.9"/>
<text x="242.7" y="381.69" font-size="5.45" fill="#000" stroke="#000" stroke-width="0.14">NCI-H2030</text>
<rect x="241.3" y="388" width="30.1" height="16.42" fill="#fff" stroke="#2e2e2e" stroke-width="0.9"/>
<text x="242.7" y="398.11" font-size="5.45" fill="#000" stroke="#000" stroke-width="0.14">SW1573</text>
<path d="M402.8 286.8V404.42" stroke="#222" stroke-width="1.2"/>
<rect x="510" y="313" width="7.2" height="82.4" fill="url(#fold)"/>
<text x="508.8" y="314.3" font-size="5.6" font-weight="bold" fill="#000" text-anchor="end" stroke="#000" stroke-width="0.14">12</text>
<text x="508.4" y="397.4" font-size="5.6" font-weight="bold" fill="#000" text-anchor="end" stroke="#000" stroke-width="0.14">0</text>
<text transform="translate(503.2 353.5) rotate(90)" font-size="6.5" font-weight="bold" fill="#000" text-anchor="middle" stroke="#000" stroke-width="0.14">Fold change</text>
</g>
</svg>
</body></html>
